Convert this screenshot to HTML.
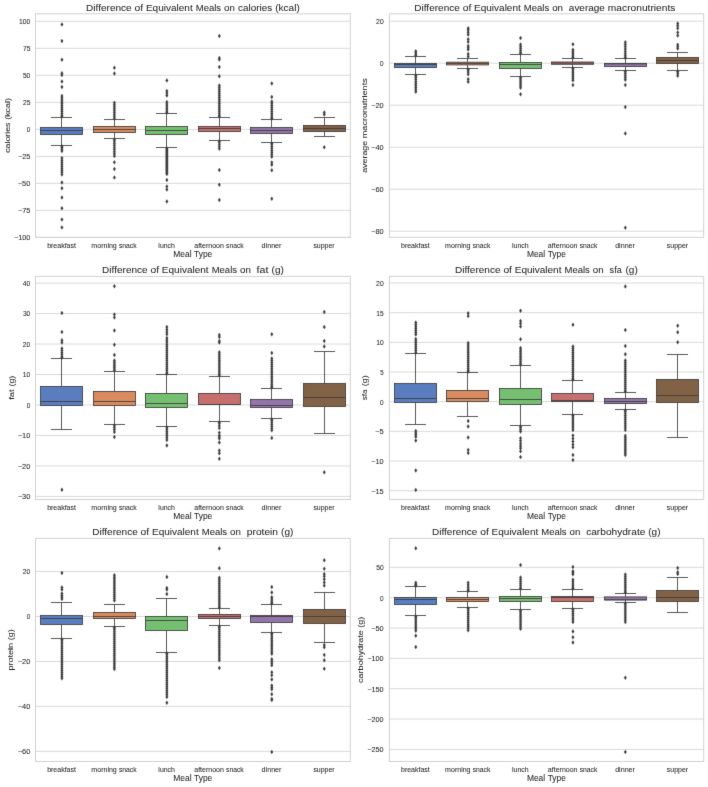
<!DOCTYPE html>
<html><head><meta charset="utf-8"><style>html,body{margin:0;padding:0;background:#fff;}svg{display:block;will-change:transform;}</style></head>
<body><svg width="708" height="787" viewBox="0 0 708 787">
<defs><filter id="sf" x="0" y="0" width="708" height="787" filterUnits="userSpaceOnUse" color-interpolation-filters="sRGB"><feConvolveMatrix order="3" kernelMatrix="1 10 1 10 100 10 1 10 1" edgeMode="duplicate"/></filter></defs><g filter="url(#sf)">
<rect width="708" height="787" fill="#fff"/>
<g stroke="#dadada" stroke-width="1.0">
<line x1="35.5" x2="350.3" y1="21.3" y2="21.3"/>
<line x1="35.5" x2="350.3" y1="48.32" y2="48.32"/>
<line x1="35.5" x2="350.3" y1="75.33" y2="75.33"/>
<line x1="35.5" x2="350.3" y1="102.35" y2="102.35"/>
<line x1="35.5" x2="350.3" y1="129.36" y2="129.36"/>
<line x1="35.5" x2="350.3" y1="156.38" y2="156.38"/>
<line x1="35.5" x2="350.3" y1="183.39" y2="183.39"/>
<line x1="35.5" x2="350.3" y1="210.41" y2="210.41"/>
<line x1="35.5" x2="350.3" y1="237.42" y2="237.42"/>
</g>
<rect x="35.5" y="13.8" width="314.8" height="223.5" fill="none" stroke="#cfcfcf" stroke-width="0.95"/>
<g stroke="#3c3c3c" stroke-width="0.85" fill="none">
<line x1="61.5" x2="61.5" y1="117.5" y2="127.5"/><line x1="61.5" x2="61.5" y1="134.5" y2="145.5"/>
<line x1="51.01" x2="71.99" y1="117.5" y2="117.5"/><line x1="51.01" x2="71.99" y1="145.5" y2="145.5"/>
<rect x="40.51" y="127.5" width="41.97" height="7" fill="#597dbf"/>
<line x1="40.51" x2="82.49" y1="130.5" y2="130.5"/>
</g>
<path d="M61.93 22.4l1.3 2l-1.3 2l-1.3 -2z M61.93 39l1.3 2l-1.3 2l-1.3 -2z M61.93 57.7l1.3 2l-1.3 2l-1.3 -2z M61.93 71.3l1.3 2l-1.3 2l-1.3 -2z M61.93 73l1.3 2l-1.3 2l-1.3 -2z M61.93 79.5l1.3 2l-1.3 2l-1.3 -2z M61.93 85.1l1.3 2l-1.3 2l-1.3 -2z M61.93 94.1l1.3 2l-1.3 2l-1.3 -2z M61.93 96.03l1.3 2l-1.3 2l-1.3 -2z M61.93 97.96l1.3 2l-1.3 2l-1.3 -2z M61.93 99.89l1.3 2l-1.3 2l-1.3 -2z M61.93 101.82l1.3 2l-1.3 2l-1.3 -2z M61.93 103.75l1.3 2l-1.3 2l-1.3 -2z M61.93 105.68l1.3 2l-1.3 2l-1.3 -2z M61.93 107.61l1.3 2l-1.3 2l-1.3 -2z M61.93 109.54l1.3 2l-1.3 2l-1.3 -2z M61.93 111.47l1.3 2l-1.3 2l-1.3 -2z M61.93 113.4l1.3 2l-1.3 2l-1.3 -2z M61.93 145.4l1.3 2l-1.3 2l-1.3 -2z M61.93 147.15l1.3 2l-1.3 2l-1.3 -2z M61.93 148.9l1.3 2l-1.3 2l-1.3 -2z M61.93 156.1l1.3 2l-1.3 2l-1.3 -2z M61.93 158.14l1.3 2l-1.3 2l-1.3 -2z M61.93 160.18l1.3 2l-1.3 2l-1.3 -2z M61.93 162.21l1.3 2l-1.3 2l-1.3 -2z M61.93 164.25l1.3 2l-1.3 2l-1.3 -2z M61.93 166.29l1.3 2l-1.3 2l-1.3 -2z M61.93 168.32l1.3 2l-1.3 2l-1.3 -2z M61.93 170.36l1.3 2l-1.3 2l-1.3 -2z M61.93 172.4l1.3 2l-1.3 2l-1.3 -2z M61.93 180.6l1.3 2l-1.3 2l-1.3 -2z M61.93 186.3l1.3 2l-1.3 2l-1.3 -2z M61.93 195.5l1.3 2l-1.3 2l-1.3 -2z M61.93 206.2l1.3 2l-1.3 2l-1.3 -2z M61.93 217.6l1.3 2l-1.3 2l-1.3 -2z M61.93 225.4l1.3 2l-1.3 2l-1.3 -2z M61.93 114.6l1.3 2l-1.3 2l-1.3 -2z M61.93 144.4l1.3 2l-1.3 2l-1.3 -2z" fill="#3c3c3c" stroke="#3c3c3c" stroke-width="0.25" stroke-linejoin="miter"/>
<g stroke="#3c3c3c" stroke-width="0.85" fill="none">
<line x1="114.5" x2="114.5" y1="119.5" y2="126.5"/><line x1="114.5" x2="114.5" y1="132.5" y2="138.5"/>
<line x1="104.01" x2="124.99" y1="119.5" y2="119.5"/><line x1="104.01" x2="124.99" y1="138.5" y2="138.5"/>
<rect x="93.51" y="126.5" width="41.97" height="6" fill="#d98b5f"/>
<line x1="93.51" x2="135.49" y1="129.5" y2="129.5"/>
</g>
<path d="M114.4 65.7l1.3 2l-1.3 2l-1.3 -2z M114.4 71.6l1.3 2l-1.3 2l-1.3 -2z M114.4 100.7l1.3 2l-1.3 2l-1.3 -2z M114.4 102.71l1.3 2l-1.3 2l-1.3 -2z M114.4 104.73l1.3 2l-1.3 2l-1.3 -2z M114.4 106.74l1.3 2l-1.3 2l-1.3 -2z M114.4 108.76l1.3 2l-1.3 2l-1.3 -2z M114.4 110.77l1.3 2l-1.3 2l-1.3 -2z M114.4 112.79l1.3 2l-1.3 2l-1.3 -2z M114.4 114.8l1.3 2l-1.3 2l-1.3 -2z M114.4 139.1l1.3 2l-1.3 2l-1.3 -2z M114.4 141.21l1.3 2l-1.3 2l-1.3 -2z M114.4 143.33l1.3 2l-1.3 2l-1.3 -2z M114.4 145.44l1.3 2l-1.3 2l-1.3 -2z M114.4 147.56l1.3 2l-1.3 2l-1.3 -2z M114.4 149.67l1.3 2l-1.3 2l-1.3 -2z M114.4 151.79l1.3 2l-1.3 2l-1.3 -2z M114.4 153.9l1.3 2l-1.3 2l-1.3 -2z M114.4 160.3l1.3 2l-1.3 2l-1.3 -2z M114.4 167.1l1.3 2l-1.3 2l-1.3 -2z M114.4 175.6l1.3 2l-1.3 2l-1.3 -2z M114.4 116.6l1.3 2l-1.3 2l-1.3 -2z M114.4 137.4l1.3 2l-1.3 2l-1.3 -2z" fill="#3c3c3c" stroke="#3c3c3c" stroke-width="0.25" stroke-linejoin="miter"/>
<g stroke="#3c3c3c" stroke-width="0.85" fill="none">
<line x1="166.5" x2="166.5" y1="113.5" y2="126.5"/><line x1="166.5" x2="166.5" y1="134.5" y2="147.5"/>
<line x1="156.01" x2="176.99" y1="113.5" y2="113.5"/><line x1="156.01" x2="176.99" y1="147.5" y2="147.5"/>
<rect x="145.51" y="126.5" width="41.97" height="8" fill="#75bf71"/>
<line x1="145.51" x2="187.49" y1="130.5" y2="130.5"/>
</g>
<path d="M166.87 78.4l1.3 2l-1.3 2l-1.3 -2z M166.87 89l1.3 2l-1.3 2l-1.3 -2z M166.87 91.2l1.3 2l-1.3 2l-1.3 -2z M166.87 93.6l1.3 2l-1.3 2l-1.3 -2z M166.87 100l1.3 2l-1.3 2l-1.3 -2z M166.87 101.96l1.3 2l-1.3 2l-1.3 -2z M166.87 103.92l1.3 2l-1.3 2l-1.3 -2z M166.87 105.88l1.3 2l-1.3 2l-1.3 -2z M166.87 107.84l1.3 2l-1.3 2l-1.3 -2z M166.87 109.8l1.3 2l-1.3 2l-1.3 -2z M166.87 147.4l1.3 2l-1.3 2l-1.3 -2z M166.87 148.38l1.3 2l-1.3 2l-1.3 -2z M166.87 149.37l1.3 2l-1.3 2l-1.3 -2z M166.87 150.35l1.3 2l-1.3 2l-1.3 -2z M166.87 151.34l1.3 2l-1.3 2l-1.3 -2z M166.87 152.32l1.3 2l-1.3 2l-1.3 -2z M166.87 153.3l1.3 2l-1.3 2l-1.3 -2z M166.87 154.29l1.3 2l-1.3 2l-1.3 -2z M166.87 155.27l1.3 2l-1.3 2l-1.3 -2z M166.87 156.26l1.3 2l-1.3 2l-1.3 -2z M166.87 157.24l1.3 2l-1.3 2l-1.3 -2z M166.87 158.22l1.3 2l-1.3 2l-1.3 -2z M166.87 159.21l1.3 2l-1.3 2l-1.3 -2z M166.87 160.19l1.3 2l-1.3 2l-1.3 -2z M166.87 161.18l1.3 2l-1.3 2l-1.3 -2z M166.87 162.16l1.3 2l-1.3 2l-1.3 -2z M166.87 163.14l1.3 2l-1.3 2l-1.3 -2z M166.87 164.13l1.3 2l-1.3 2l-1.3 -2z M166.87 165.11l1.3 2l-1.3 2l-1.3 -2z M166.87 166.1l1.3 2l-1.3 2l-1.3 -2z M166.87 167.08l1.3 2l-1.3 2l-1.3 -2z M166.87 168.06l1.3 2l-1.3 2l-1.3 -2z M166.87 169.05l1.3 2l-1.3 2l-1.3 -2z M166.87 170.03l1.3 2l-1.3 2l-1.3 -2z M166.87 171.02l1.3 2l-1.3 2l-1.3 -2z M166.87 172l1.3 2l-1.3 2l-1.3 -2z M166.87 178l1.3 2l-1.3 2l-1.3 -2z M166.87 184.6l1.3 2l-1.3 2l-1.3 -2z M166.87 187.6l1.3 2l-1.3 2l-1.3 -2z M166.87 199.5l1.3 2l-1.3 2l-1.3 -2z M166.87 110.6l1.3 2l-1.3 2l-1.3 -2z M166.87 146.4l1.3 2l-1.3 2l-1.3 -2z" fill="#3c3c3c" stroke="#3c3c3c" stroke-width="0.25" stroke-linejoin="miter"/>
<g stroke="#3c3c3c" stroke-width="0.85" fill="none">
<line x1="219.5" x2="219.5" y1="117.5" y2="126.5"/><line x1="219.5" x2="219.5" y1="131.5" y2="140.5"/>
<line x1="209.01" x2="229.99" y1="117.5" y2="117.5"/><line x1="209.01" x2="229.99" y1="140.5" y2="140.5"/>
<rect x="198.51" y="126.5" width="41.97" height="5" fill="#c76e6e"/>
<line x1="198.51" x2="240.49" y1="128.5" y2="128.5"/>
</g>
<path d="M219.33 34l1.3 2l-1.3 2l-1.3 -2z M219.33 56l1.3 2l-1.3 2l-1.3 -2z M219.33 57.6l1.3 2l-1.3 2l-1.3 -2z M219.33 65.1l1.3 2l-1.3 2l-1.3 -2z M219.33 74.3l1.3 2l-1.3 2l-1.3 -2z M219.33 83.6l1.3 2l-1.3 2l-1.3 -2z M219.33 85.58l1.3 2l-1.3 2l-1.3 -2z M219.33 87.56l1.3 2l-1.3 2l-1.3 -2z M219.33 89.54l1.3 2l-1.3 2l-1.3 -2z M219.33 91.52l1.3 2l-1.3 2l-1.3 -2z M219.33 93.5l1.3 2l-1.3 2l-1.3 -2z M219.33 95.48l1.3 2l-1.3 2l-1.3 -2z M219.33 97.46l1.3 2l-1.3 2l-1.3 -2z M219.33 99.44l1.3 2l-1.3 2l-1.3 -2z M219.33 101.42l1.3 2l-1.3 2l-1.3 -2z M219.33 103.4l1.3 2l-1.3 2l-1.3 -2z M219.33 105.38l1.3 2l-1.3 2l-1.3 -2z M219.33 107.36l1.3 2l-1.3 2l-1.3 -2z M219.33 109.34l1.3 2l-1.3 2l-1.3 -2z M219.33 111.32l1.3 2l-1.3 2l-1.3 -2z M219.33 113.3l1.3 2l-1.3 2l-1.3 -2z M219.33 140.1l1.3 2l-1.3 2l-1.3 -2z M219.33 142.3l1.3 2l-1.3 2l-1.3 -2z M219.33 144.5l1.3 2l-1.3 2l-1.3 -2z M219.33 146.7l1.3 2l-1.3 2l-1.3 -2z M219.33 168.1l1.3 2l-1.3 2l-1.3 -2z M219.33 182.7l1.3 2l-1.3 2l-1.3 -2z M219.33 197.9l1.3 2l-1.3 2l-1.3 -2z M219.33 114.6l1.3 2l-1.3 2l-1.3 -2z M219.33 139.4l1.3 2l-1.3 2l-1.3 -2z" fill="#3c3c3c" stroke="#3c3c3c" stroke-width="0.25" stroke-linejoin="miter"/>
<g stroke="#3c3c3c" stroke-width="0.85" fill="none">
<line x1="271.5" x2="271.5" y1="119.5" y2="127.5"/><line x1="271.5" x2="271.5" y1="133.5" y2="142.5"/>
<line x1="261.01" x2="281.99" y1="119.5" y2="119.5"/><line x1="261.01" x2="281.99" y1="142.5" y2="142.5"/>
<rect x="250.51" y="127.5" width="41.97" height="6" fill="#9475ab"/>
<line x1="250.51" x2="292.49" y1="130.5" y2="130.5"/>
</g>
<path d="M271.8 81.4l1.3 2l-1.3 2l-1.3 -2z M271.8 94.9l1.3 2l-1.3 2l-1.3 -2z M271.8 99.6l1.3 2l-1.3 2l-1.3 -2z M271.8 101.57l1.3 2l-1.3 2l-1.3 -2z M271.8 103.55l1.3 2l-1.3 2l-1.3 -2z M271.8 105.53l1.3 2l-1.3 2l-1.3 -2z M271.8 107.5l1.3 2l-1.3 2l-1.3 -2z M271.8 109.47l1.3 2l-1.3 2l-1.3 -2z M271.8 111.45l1.3 2l-1.3 2l-1.3 -2z M271.8 113.43l1.3 2l-1.3 2l-1.3 -2z M271.8 115.4l1.3 2l-1.3 2l-1.3 -2z M271.8 142.1l1.3 2l-1.3 2l-1.3 -2z M271.8 144.2l1.3 2l-1.3 2l-1.3 -2z M271.8 146.3l1.3 2l-1.3 2l-1.3 -2z M271.8 148.4l1.3 2l-1.3 2l-1.3 -2z M271.8 150.5l1.3 2l-1.3 2l-1.3 -2z M271.8 152.6l1.3 2l-1.3 2l-1.3 -2z M271.8 154.7l1.3 2l-1.3 2l-1.3 -2z M271.8 160.4l1.3 2l-1.3 2l-1.3 -2z M271.8 162.7l1.3 2l-1.3 2l-1.3 -2z M271.8 168.3l1.3 2l-1.3 2l-1.3 -2z M271.8 196.7l1.3 2l-1.3 2l-1.3 -2z M271.8 116.6l1.3 2l-1.3 2l-1.3 -2z M271.8 141.4l1.3 2l-1.3 2l-1.3 -2z" fill="#3c3c3c" stroke="#3c3c3c" stroke-width="0.25" stroke-linejoin="miter"/>
<g stroke="#3c3c3c" stroke-width="0.85" fill="none">
<line x1="324.5" x2="324.5" y1="117.5" y2="125.5"/><line x1="324.5" x2="324.5" y1="131.5" y2="136.5"/>
<line x1="314.01" x2="334.99" y1="117.5" y2="117.5"/><line x1="314.01" x2="334.99" y1="136.5" y2="136.5"/>
<rect x="303.51" y="125.5" width="41.97" height="6" fill="#826246"/>
<line x1="303.51" x2="345.49" y1="128.5" y2="128.5"/>
</g>
<path d="M324.27 110.4l1.3 2l-1.3 2l-1.3 -2z M324.27 112.4l1.3 2l-1.3 2l-1.3 -2z M324.27 145.2l1.3 2l-1.3 2l-1.3 -2z" fill="#3c3c3c" stroke="#3c3c3c" stroke-width="0.25" stroke-linejoin="miter"/>
<g fill="#262626" stroke="#262626" stroke-width="0.05" font-family="Liberation Sans, sans-serif">
<text x="86.1" y="10.5" font-size="9.3" textLength="45.59" lengthAdjust="spacingAndGlyphs">Difference</text><text x="134.57" y="10.5" font-size="9.3" textLength="8.6" lengthAdjust="spacingAndGlyphs">of</text><text x="145.94" y="10.5" font-size="9.3" textLength="46.79" lengthAdjust="spacingAndGlyphs">Equivalent</text><text x="195.76" y="10.5" font-size="9.3" textLength="25.39" lengthAdjust="spacingAndGlyphs">Meals</text><text x="224.14" y="10.5" font-size="9.3" textLength="10.83" lengthAdjust="spacingAndGlyphs">on</text><text x="237.99" y="10.5" font-size="9.3" textLength="34.19" lengthAdjust="spacingAndGlyphs">calories</text><text x="275.21" y="10.5" font-size="9.3" textLength="24.55" lengthAdjust="spacingAndGlyphs">(kcal)</text>
<text x="18.92" y="24.2" font-size="6.9" textLength="11.45" lengthAdjust="spacingAndGlyphs">100</text>
<text x="22.97" y="51.22" font-size="6.9" textLength="7.41" lengthAdjust="spacingAndGlyphs">75</text>
<text x="22.88" y="78.23" font-size="6.9" textLength="7.47" lengthAdjust="spacingAndGlyphs">50</text>
<text x="22.94" y="105.25" font-size="6.9" textLength="7.44" lengthAdjust="spacingAndGlyphs">25</text>
<text x="26.74" y="132.26" font-size="6.9" textLength="3.6" lengthAdjust="spacingAndGlyphs">0</text>
<text x="17.92" y="159.28" font-size="6.9" textLength="12.48" lengthAdjust="spacingAndGlyphs">−25</text>
<text x="17.8" y="186.29" font-size="6.9" textLength="12.57" lengthAdjust="spacingAndGlyphs">−50</text>
<text x="17.92" y="213.31" font-size="6.9" textLength="12.48" lengthAdjust="spacingAndGlyphs">−75</text>
<text x="13.9" y="240.32" font-size="6.9" textLength="16.48" lengthAdjust="spacingAndGlyphs">−100</text>
<text x="47.15" y="247.8" font-size="6.9" textLength="28.77" lengthAdjust="spacingAndGlyphs">breakfast</text>
<text x="91.36" y="247.8" font-size="6.9" textLength="25.41" lengthAdjust="spacingAndGlyphs">morning</text><text x="118.93" y="247.8" font-size="6.9" textLength="17.68" lengthAdjust="spacingAndGlyphs">snack</text>
<text x="158.37" y="247.8" font-size="6.9" textLength="16.59" lengthAdjust="spacingAndGlyphs">lunch</text>
<text x="194.28" y="247.8" font-size="6.9" textLength="29.62" lengthAdjust="spacingAndGlyphs">afternoon</text><text x="226.05" y="247.8" font-size="6.9" textLength="17.68" lengthAdjust="spacingAndGlyphs">snack</text>
<text x="261.63" y="247.8" font-size="6.9" textLength="19.8" lengthAdjust="spacingAndGlyphs">dinner</text>
<text x="313.42" y="247.8" font-size="6.9" textLength="21.21" lengthAdjust="spacingAndGlyphs">supper</text>
<text x="173.25" y="257" font-size="8.5" textLength="18.32" lengthAdjust="spacingAndGlyphs">Meal</text><text x="194.02" y="257" font-size="8.5" textLength="18.23" lengthAdjust="spacingAndGlyphs">Type</text>
<g transform="rotate(-90)"><text x="-152.81" y="10.1" font-size="8.1" textLength="30.3" lengthAdjust="spacingAndGlyphs">calories</text><text x="-119.82" y="10.1" font-size="8.1" textLength="21.75" lengthAdjust="spacingAndGlyphs">(kcal)</text></g>
</g>
<g stroke="#dadada" stroke-width="1.0">
<line x1="389.4" x2="703.7" y1="21.2" y2="21.2"/>
<line x1="389.4" x2="703.7" y1="63.2" y2="63.2"/>
<line x1="389.4" x2="703.7" y1="105.2" y2="105.2"/>
<line x1="389.4" x2="703.7" y1="147.2" y2="147.2"/>
<line x1="389.4" x2="703.7" y1="189.2" y2="189.2"/>
<line x1="389.4" x2="703.7" y1="231.2" y2="231.2"/>
</g>
<rect x="389.4" y="13.8" width="314.3" height="223.5" fill="none" stroke="#cfcfcf" stroke-width="0.95"/>
<g stroke="#3c3c3c" stroke-width="0.85" fill="none">
<line x1="415.5" x2="415.5" y1="56.5" y2="63.5"/><line x1="415.5" x2="415.5" y1="67.5" y2="74.5"/>
<line x1="405.02" x2="425.98" y1="56.5" y2="56.5"/><line x1="405.02" x2="425.98" y1="74.5" y2="74.5"/>
<rect x="394.55" y="63.5" width="41.91" height="4" fill="#597dbf"/>
<line x1="394.55" x2="436.45" y1="64.5" y2="64.5"/>
</g>
<path d="M415.79 49.3l1.3 2l-1.3 2l-1.3 -2z M415.79 51.1l1.3 2l-1.3 2l-1.3 -2z M415.79 52.9l1.3 2l-1.3 2l-1.3 -2z M415.79 73.6l1.3 2l-1.3 2l-1.3 -2z M415.79 75.61l1.3 2l-1.3 2l-1.3 -2z M415.79 77.62l1.3 2l-1.3 2l-1.3 -2z M415.79 79.64l1.3 2l-1.3 2l-1.3 -2z M415.79 81.65l1.3 2l-1.3 2l-1.3 -2z M415.79 83.66l1.3 2l-1.3 2l-1.3 -2z M415.79 85.67l1.3 2l-1.3 2l-1.3 -2z M415.79 87.69l1.3 2l-1.3 2l-1.3 -2z M415.79 89.7l1.3 2l-1.3 2l-1.3 -2z M415.79 53.6l1.3 2l-1.3 2l-1.3 -2z M415.79 73.4l1.3 2l-1.3 2l-1.3 -2z" fill="#3c3c3c" stroke="#3c3c3c" stroke-width="0.25" stroke-linejoin="miter"/>
<g stroke="#3c3c3c" stroke-width="0.85" fill="none">
<line x1="467.5" x2="467.5" y1="58.5" y2="62.2"/><line x1="467.5" x2="467.5" y1="64.9" y2="68.5"/>
<line x1="457.02" x2="477.98" y1="58.5" y2="58.5"/><line x1="457.02" x2="477.98" y1="68.5" y2="68.5"/>
<rect x="446.55" y="62.2" width="41.91" height="2.7" fill="#d98b5f"/>
<line x1="446.55" x2="488.45" y1="63.5" y2="63.5"/>
</g>
<path d="M468.18 26.3l1.3 2l-1.3 2l-1.3 -2z M468.18 28l1.3 2l-1.3 2l-1.3 -2z M468.18 30.3l1.3 2l-1.3 2l-1.3 -2z M468.18 32.6l1.3 2l-1.3 2l-1.3 -2z M468.18 37.2l1.3 2l-1.3 2l-1.3 -2z M468.18 39.8l1.3 2l-1.3 2l-1.3 -2z M468.18 43.9l1.3 2l-1.3 2l-1.3 -2z M468.18 45.65l1.3 2l-1.3 2l-1.3 -2z M468.18 47.4l1.3 2l-1.3 2l-1.3 -2z M468.18 52l1.3 2l-1.3 2l-1.3 -2z M468.18 54.4l1.3 2l-1.3 2l-1.3 -2z M468.18 67.9l1.3 2l-1.3 2l-1.3 -2z M468.18 70.05l1.3 2l-1.3 2l-1.3 -2z M468.18 72.2l1.3 2l-1.3 2l-1.3 -2z M468.18 77.2l1.3 2l-1.3 2l-1.3 -2z M468.18 79.8l1.3 2l-1.3 2l-1.3 -2z M468.18 67.4l1.3 2l-1.3 2l-1.3 -2z" fill="#3c3c3c" stroke="#3c3c3c" stroke-width="0.25" stroke-linejoin="miter"/>
<g stroke="#3c3c3c" stroke-width="0.85" fill="none">
<line x1="520.5" x2="520.5" y1="54.5" y2="62.5"/><line x1="520.5" x2="520.5" y1="68.5" y2="76.5"/>
<line x1="510.02" x2="530.98" y1="54.5" y2="54.5"/><line x1="510.02" x2="530.98" y1="76.5" y2="76.5"/>
<rect x="499.55" y="62.5" width="41.91" height="6" fill="#75bf71"/>
<line x1="499.55" x2="541.45" y1="64.5" y2="64.5"/>
</g>
<path d="M520.56 36.1l1.3 2l-1.3 2l-1.3 -2z M520.56 42.6l1.3 2l-1.3 2l-1.3 -2z M520.56 44.55l1.3 2l-1.3 2l-1.3 -2z M520.56 46.5l1.3 2l-1.3 2l-1.3 -2z M520.56 48.45l1.3 2l-1.3 2l-1.3 -2z M520.56 50.4l1.3 2l-1.3 2l-1.3 -2z M520.56 76.1l1.3 2l-1.3 2l-1.3 -2z M520.56 78.02l1.3 2l-1.3 2l-1.3 -2z M520.56 79.94l1.3 2l-1.3 2l-1.3 -2z M520.56 81.86l1.3 2l-1.3 2l-1.3 -2z M520.56 83.78l1.3 2l-1.3 2l-1.3 -2z M520.56 85.7l1.3 2l-1.3 2l-1.3 -2z M520.56 92.3l1.3 2l-1.3 2l-1.3 -2z M520.56 51.6l1.3 2l-1.3 2l-1.3 -2z M520.56 75.4l1.3 2l-1.3 2l-1.3 -2z" fill="#3c3c3c" stroke="#3c3c3c" stroke-width="0.25" stroke-linejoin="miter"/>
<g stroke="#3c3c3c" stroke-width="0.85" fill="none">
<line x1="572.5" x2="572.5" y1="58.5" y2="62"/><line x1="572.5" x2="572.5" y1="64.3" y2="67.5"/>
<line x1="562.02" x2="582.98" y1="58.5" y2="58.5"/><line x1="562.02" x2="582.98" y1="67.5" y2="67.5"/>
<rect x="551.55" y="62" width="41.91" height="2.3" fill="#c76e6e"/>
<line x1="551.55" x2="593.45" y1="63.1" y2="63.1"/>
</g>
<path d="M572.94 42.3l1.3 2l-1.3 2l-1.3 -2z M572.94 47.8l1.3 2l-1.3 2l-1.3 -2z M572.94 49.58l1.3 2l-1.3 2l-1.3 -2z M572.94 51.35l1.3 2l-1.3 2l-1.3 -2z M572.94 53.12l1.3 2l-1.3 2l-1.3 -2z M572.94 54.9l1.3 2l-1.3 2l-1.3 -2z M572.94 67.1l1.3 2l-1.3 2l-1.3 -2z M572.94 68.97l1.3 2l-1.3 2l-1.3 -2z M572.94 70.83l1.3 2l-1.3 2l-1.3 -2z M572.94 72.7l1.3 2l-1.3 2l-1.3 -2z M572.94 74.57l1.3 2l-1.3 2l-1.3 -2z M572.94 76.43l1.3 2l-1.3 2l-1.3 -2z M572.94 78.3l1.3 2l-1.3 2l-1.3 -2z M572.94 83.1l1.3 2l-1.3 2l-1.3 -2z M572.94 55.6l1.3 2l-1.3 2l-1.3 -2z M572.94 66.4l1.3 2l-1.3 2l-1.3 -2z" fill="#3c3c3c" stroke="#3c3c3c" stroke-width="0.25" stroke-linejoin="miter"/>
<g stroke="#3c3c3c" stroke-width="0.85" fill="none">
<line x1="625.5" x2="625.5" y1="58.5" y2="63.4"/><line x1="625.5" x2="625.5" y1="66.5" y2="70.5"/>
<line x1="615.02" x2="635.98" y1="58.5" y2="58.5"/><line x1="615.02" x2="635.98" y1="70.5" y2="70.5"/>
<rect x="604.55" y="63.4" width="41.91" height="3.1" fill="#9475ab"/>
<line x1="604.55" x2="646.45" y1="63.8" y2="63.8"/>
</g>
<path d="M625.33 40.3l1.3 2l-1.3 2l-1.3 -2z M625.33 42.5l1.3 2l-1.3 2l-1.3 -2z M625.33 44.7l1.3 2l-1.3 2l-1.3 -2z M625.33 47l1.3 2l-1.3 2l-1.3 -2z M625.33 49.2l1.3 2l-1.3 2l-1.3 -2z M625.33 51.4l1.3 2l-1.3 2l-1.3 -2z M625.33 53.6l1.3 2l-1.3 2l-1.3 -2z M625.33 55.8l1.3 2l-1.3 2l-1.3 -2z M625.33 69.6l1.3 2l-1.3 2l-1.3 -2z M625.33 71.62l1.3 2l-1.3 2l-1.3 -2z M625.33 73.65l1.3 2l-1.3 2l-1.3 -2z M625.33 75.67l1.3 2l-1.3 2l-1.3 -2z M625.33 77.7l1.3 2l-1.3 2l-1.3 -2z M625.33 83l1.3 2l-1.3 2l-1.3 -2z M625.33 105.1l1.3 2l-1.3 2l-1.3 -2z M625.33 131.4l1.3 2l-1.3 2l-1.3 -2z M625.33 225.7l1.3 2l-1.3 2l-1.3 -2z M625.33 55.6l1.3 2l-1.3 2l-1.3 -2z M625.33 69.4l1.3 2l-1.3 2l-1.3 -2z" fill="#3c3c3c" stroke="#3c3c3c" stroke-width="0.25" stroke-linejoin="miter"/>
<g stroke="#3c3c3c" stroke-width="0.85" fill="none">
<line x1="677.5" x2="677.5" y1="52.5" y2="57.5"/><line x1="677.5" x2="677.5" y1="63.5" y2="70.5"/>
<line x1="667.02" x2="687.98" y1="52.5" y2="52.5"/><line x1="667.02" x2="687.98" y1="70.5" y2="70.5"/>
<rect x="656.55" y="57.5" width="41.91" height="6" fill="#826246"/>
<line x1="656.55" x2="698.45" y1="60.5" y2="60.5"/>
</g>
<path d="M677.71 21.5l1.3 2l-1.3 2l-1.3 -2z M677.71 23.8l1.3 2l-1.3 2l-1.3 -2z M677.71 26.2l1.3 2l-1.3 2l-1.3 -2z M677.71 30.5l1.3 2l-1.3 2l-1.3 -2z M677.71 33.5l1.3 2l-1.3 2l-1.3 -2z M677.71 42.8l1.3 2l-1.3 2l-1.3 -2z M677.71 44.7l1.3 2l-1.3 2l-1.3 -2z M677.71 46.6l1.3 2l-1.3 2l-1.3 -2z M677.71 69.6l1.3 2l-1.3 2l-1.3 -2z M677.71 71.5l1.3 2l-1.3 2l-1.3 -2z M677.71 73.8l1.3 2l-1.3 2l-1.3 -2z M677.71 69.4l1.3 2l-1.3 2l-1.3 -2z" fill="#3c3c3c" stroke="#3c3c3c" stroke-width="0.25" stroke-linejoin="miter"/>
<g fill="#262626" stroke="#262626" stroke-width="0.05" font-family="Liberation Sans, sans-serif">
<text x="414.3" y="10.5" font-size="9.3" textLength="45.53" lengthAdjust="spacingAndGlyphs">Difference</text><text x="462.71" y="10.5" font-size="9.3" textLength="8.58" lengthAdjust="spacingAndGlyphs">of</text><text x="474.06" y="10.5" font-size="9.3" textLength="46.72" lengthAdjust="spacingAndGlyphs">Equivalent</text><text x="523.81" y="10.5" font-size="9.3" textLength="25.35" lengthAdjust="spacingAndGlyphs">Meals</text><text x="552.16" y="10.5" font-size="9.3" textLength="10.82" lengthAdjust="spacingAndGlyphs">on</text><text x="568.83" y="10.5" font-size="9.3" textLength="36.09" lengthAdjust="spacingAndGlyphs">average</text><text x="607.86" y="10.5" font-size="9.3" textLength="67.49" lengthAdjust="spacingAndGlyphs">macronutrients</text>
<text x="376.11" y="24.1" font-size="6.9" textLength="7.54" lengthAdjust="spacingAndGlyphs">20</text>
<text x="380.04" y="66.1" font-size="6.9" textLength="3.6" lengthAdjust="spacingAndGlyphs">0</text>
<text x="371.1" y="108.1" font-size="6.9" textLength="12.57" lengthAdjust="spacingAndGlyphs">−20</text>
<text x="371.1" y="150.1" font-size="6.9" textLength="12.57" lengthAdjust="spacingAndGlyphs">−40</text>
<text x="371.1" y="192.1" font-size="6.9" textLength="12.57" lengthAdjust="spacingAndGlyphs">−60</text>
<text x="371.1" y="234.1" font-size="6.9" textLength="12.57" lengthAdjust="spacingAndGlyphs">−80</text>
<text x="401.01" y="247.8" font-size="6.9" textLength="28.77" lengthAdjust="spacingAndGlyphs">breakfast</text>
<text x="445.13" y="247.8" font-size="6.9" textLength="25.41" lengthAdjust="spacingAndGlyphs">morning</text><text x="472.71" y="247.8" font-size="6.9" textLength="17.68" lengthAdjust="spacingAndGlyphs">snack</text>
<text x="512.07" y="247.8" font-size="6.9" textLength="16.59" lengthAdjust="spacingAndGlyphs">lunch</text>
<text x="547.89" y="247.8" font-size="6.9" textLength="29.62" lengthAdjust="spacingAndGlyphs">afternoon</text><text x="579.66" y="247.8" font-size="6.9" textLength="17.68" lengthAdjust="spacingAndGlyphs">snack</text>
<text x="615.15" y="247.8" font-size="6.9" textLength="19.8" lengthAdjust="spacingAndGlyphs">dinner</text>
<text x="666.86" y="247.8" font-size="6.9" textLength="21.21" lengthAdjust="spacingAndGlyphs">supper</text>
<text x="526.9" y="257" font-size="8.5" textLength="18.32" lengthAdjust="spacingAndGlyphs">Meal</text><text x="547.67" y="257" font-size="8.5" textLength="18.23" lengthAdjust="spacingAndGlyphs">Type</text>
<g transform="rotate(-90)"><text x="-172.83" y="367.3" font-size="8.1" textLength="32.03" lengthAdjust="spacingAndGlyphs">average</text><text x="-138.19" y="367.3" font-size="8.1" textLength="59.89" lengthAdjust="spacingAndGlyphs">macronutrients</text></g>
</g>
<g stroke="#dadada" stroke-width="1.0">
<line x1="35.5" x2="350.3" y1="283.12" y2="283.12"/>
<line x1="35.5" x2="350.3" y1="313.59" y2="313.59"/>
<line x1="35.5" x2="350.3" y1="344.06" y2="344.06"/>
<line x1="35.5" x2="350.3" y1="374.53" y2="374.53"/>
<line x1="35.5" x2="350.3" y1="405" y2="405"/>
<line x1="35.5" x2="350.3" y1="435.47" y2="435.47"/>
<line x1="35.5" x2="350.3" y1="465.94" y2="465.94"/>
<line x1="35.5" x2="350.3" y1="496.41" y2="496.41"/>
</g>
<rect x="35.5" y="276.4" width="314.8" height="223.1" fill="none" stroke="#cfcfcf" stroke-width="0.95"/>
<g stroke="#3c3c3c" stroke-width="0.85" fill="none">
<line x1="61.5" x2="61.5" y1="358.5" y2="386.5"/><line x1="61.5" x2="61.5" y1="405.5" y2="429.5"/>
<line x1="51.01" x2="71.99" y1="358.5" y2="358.5"/><line x1="51.01" x2="71.99" y1="429.5" y2="429.5"/>
<rect x="40.51" y="386.5" width="41.97" height="19" fill="#597dbf"/>
<line x1="40.51" x2="82.49" y1="401.5" y2="401.5"/>
</g>
<path d="M61.93 311l1.3 2l-1.3 2l-1.3 -2z M61.93 330l1.3 2l-1.3 2l-1.3 -2z M61.93 338.2l1.3 2l-1.3 2l-1.3 -2z M61.93 340.6l1.3 2l-1.3 2l-1.3 -2z M61.93 346.4l1.3 2l-1.3 2l-1.3 -2z M61.93 348.53l1.3 2l-1.3 2l-1.3 -2z M61.93 350.65l1.3 2l-1.3 2l-1.3 -2z M61.93 352.77l1.3 2l-1.3 2l-1.3 -2z M61.93 354.9l1.3 2l-1.3 2l-1.3 -2z M61.93 487.8l1.3 2l-1.3 2l-1.3 -2z M61.93 355.6l1.3 2l-1.3 2l-1.3 -2z" fill="#3c3c3c" stroke="#3c3c3c" stroke-width="0.25" stroke-linejoin="miter"/>
<g stroke="#3c3c3c" stroke-width="0.85" fill="none">
<line x1="114.5" x2="114.5" y1="371.5" y2="391.5"/><line x1="114.5" x2="114.5" y1="405.5" y2="424.5"/>
<line x1="104.01" x2="124.99" y1="371.5" y2="371.5"/><line x1="104.01" x2="124.99" y1="424.5" y2="424.5"/>
<rect x="93.51" y="391.5" width="41.97" height="14" fill="#d98b5f"/>
<line x1="93.51" x2="135.49" y1="401.5" y2="401.5"/>
</g>
<path d="M114.4 284.2l1.3 2l-1.3 2l-1.3 -2z M114.4 312.5l1.3 2l-1.3 2l-1.3 -2z M114.4 315.4l1.3 2l-1.3 2l-1.3 -2z M114.4 328.5l1.3 2l-1.3 2l-1.3 -2z M114.4 342.7l1.3 2l-1.3 2l-1.3 -2z M114.4 352.9l1.3 2l-1.3 2l-1.3 -2z M114.4 358.6l1.3 2l-1.3 2l-1.3 -2z M114.4 360.28l1.3 2l-1.3 2l-1.3 -2z M114.4 361.96l1.3 2l-1.3 2l-1.3 -2z M114.4 363.64l1.3 2l-1.3 2l-1.3 -2z M114.4 365.32l1.3 2l-1.3 2l-1.3 -2z M114.4 367l1.3 2l-1.3 2l-1.3 -2z M114.4 425.4l1.3 2l-1.3 2l-1.3 -2z M114.4 427.6l1.3 2l-1.3 2l-1.3 -2z M114.4 429.9l1.3 2l-1.3 2l-1.3 -2z M114.4 435.1l1.3 2l-1.3 2l-1.3 -2z M114.4 368.6l1.3 2l-1.3 2l-1.3 -2z M114.4 423.4l1.3 2l-1.3 2l-1.3 -2z" fill="#3c3c3c" stroke="#3c3c3c" stroke-width="0.25" stroke-linejoin="miter"/>
<g stroke="#3c3c3c" stroke-width="0.85" fill="none">
<line x1="166.5" x2="166.5" y1="374.5" y2="393.5"/><line x1="166.5" x2="166.5" y1="407.5" y2="426.5"/>
<line x1="156.01" x2="176.99" y1="374.5" y2="374.5"/><line x1="156.01" x2="176.99" y1="426.5" y2="426.5"/>
<rect x="145.51" y="393.5" width="41.97" height="14" fill="#75bf71"/>
<line x1="145.51" x2="187.49" y1="403.5" y2="403.5"/>
</g>
<path d="M166.87 325l1.3 2l-1.3 2l-1.3 -2z M166.87 327.5l1.3 2l-1.3 2l-1.3 -2z M166.87 330l1.3 2l-1.3 2l-1.3 -2z M166.87 332.2l1.3 2l-1.3 2l-1.3 -2z M166.87 336l1.3 2l-1.3 2l-1.3 -2z M166.87 338.05l1.3 2l-1.3 2l-1.3 -2z M166.87 340.11l1.3 2l-1.3 2l-1.3 -2z M166.87 342.16l1.3 2l-1.3 2l-1.3 -2z M166.87 344.21l1.3 2l-1.3 2l-1.3 -2z M166.87 346.26l1.3 2l-1.3 2l-1.3 -2z M166.87 348.32l1.3 2l-1.3 2l-1.3 -2z M166.87 350.37l1.3 2l-1.3 2l-1.3 -2z M166.87 352.42l1.3 2l-1.3 2l-1.3 -2z M166.87 354.48l1.3 2l-1.3 2l-1.3 -2z M166.87 356.53l1.3 2l-1.3 2l-1.3 -2z M166.87 358.58l1.3 2l-1.3 2l-1.3 -2z M166.87 360.64l1.3 2l-1.3 2l-1.3 -2z M166.87 362.69l1.3 2l-1.3 2l-1.3 -2z M166.87 364.74l1.3 2l-1.3 2l-1.3 -2z M166.87 366.79l1.3 2l-1.3 2l-1.3 -2z M166.87 368.85l1.3 2l-1.3 2l-1.3 -2z M166.87 370.9l1.3 2l-1.3 2l-1.3 -2z M166.87 427.6l1.3 2l-1.3 2l-1.3 -2z M166.87 429.66l1.3 2l-1.3 2l-1.3 -2z M166.87 431.72l1.3 2l-1.3 2l-1.3 -2z M166.87 433.78l1.3 2l-1.3 2l-1.3 -2z M166.87 435.84l1.3 2l-1.3 2l-1.3 -2z M166.87 437.9l1.3 2l-1.3 2l-1.3 -2z M166.87 443.4l1.3 2l-1.3 2l-1.3 -2z M166.87 371.6l1.3 2l-1.3 2l-1.3 -2z M166.87 425.4l1.3 2l-1.3 2l-1.3 -2z" fill="#3c3c3c" stroke="#3c3c3c" stroke-width="0.25" stroke-linejoin="miter"/>
<g stroke="#3c3c3c" stroke-width="0.85" fill="none">
<line x1="219.5" x2="219.5" y1="376.5" y2="393.5"/><line x1="219.5" x2="219.5" y1="404.5" y2="421.5"/>
<line x1="209.01" x2="229.99" y1="376.5" y2="376.5"/><line x1="209.01" x2="229.99" y1="421.5" y2="421.5"/>
<rect x="198.51" y="393.5" width="41.97" height="11" fill="#c76e6e"/>
<line x1="198.51" x2="240.49" y1="404.5" y2="404.5"/>
</g>
<path d="M219.33 332.9l1.3 2l-1.3 2l-1.3 -2z M219.33 335.1l1.3 2l-1.3 2l-1.3 -2z M219.33 338.9l1.3 2l-1.3 2l-1.3 -2z M219.33 340.4l1.3 2l-1.3 2l-1.3 -2z M219.33 350.2l1.3 2l-1.3 2l-1.3 -2z M219.33 352.18l1.3 2l-1.3 2l-1.3 -2z M219.33 354.16l1.3 2l-1.3 2l-1.3 -2z M219.33 356.15l1.3 2l-1.3 2l-1.3 -2z M219.33 358.13l1.3 2l-1.3 2l-1.3 -2z M219.33 360.11l1.3 2l-1.3 2l-1.3 -2z M219.33 362.09l1.3 2l-1.3 2l-1.3 -2z M219.33 364.07l1.3 2l-1.3 2l-1.3 -2z M219.33 366.05l1.3 2l-1.3 2l-1.3 -2z M219.33 368.04l1.3 2l-1.3 2l-1.3 -2z M219.33 370.02l1.3 2l-1.3 2l-1.3 -2z M219.33 372l1.3 2l-1.3 2l-1.3 -2z M219.33 421.2l1.3 2l-1.3 2l-1.3 -2z M219.33 423.65l1.3 2l-1.3 2l-1.3 -2z M219.33 426.1l1.3 2l-1.3 2l-1.3 -2z M219.33 430.7l1.3 2l-1.3 2l-1.3 -2z M219.33 433.5l1.3 2l-1.3 2l-1.3 -2z M219.33 435l1.3 2l-1.3 2l-1.3 -2z M219.33 436.4l1.3 2l-1.3 2l-1.3 -2z M219.33 440.5l1.3 2l-1.3 2l-1.3 -2z M219.33 448.4l1.3 2l-1.3 2l-1.3 -2z M219.33 451.2l1.3 2l-1.3 2l-1.3 -2z M219.33 456.8l1.3 2l-1.3 2l-1.3 -2z M219.33 373.6l1.3 2l-1.3 2l-1.3 -2z M219.33 420.4l1.3 2l-1.3 2l-1.3 -2z" fill="#3c3c3c" stroke="#3c3c3c" stroke-width="0.25" stroke-linejoin="miter"/>
<g stroke="#3c3c3c" stroke-width="0.85" fill="none">
<line x1="271.5" x2="271.5" y1="388.5" y2="399.5"/><line x1="271.5" x2="271.5" y1="407.5" y2="418.5"/>
<line x1="261.01" x2="281.99" y1="388.5" y2="388.5"/><line x1="261.01" x2="281.99" y1="418.5" y2="418.5"/>
<rect x="250.51" y="399.5" width="41.97" height="8" fill="#9475ab"/>
<line x1="250.51" x2="292.49" y1="405.5" y2="405.5"/>
</g>
<path d="M271.8 332.3l1.3 2l-1.3 2l-1.3 -2z M271.8 350.9l1.3 2l-1.3 2l-1.3 -2z M271.8 356.5l1.3 2l-1.3 2l-1.3 -2z M271.8 358.52l1.3 2l-1.3 2l-1.3 -2z M271.8 360.54l1.3 2l-1.3 2l-1.3 -2z M271.8 362.56l1.3 2l-1.3 2l-1.3 -2z M271.8 364.59l1.3 2l-1.3 2l-1.3 -2z M271.8 366.61l1.3 2l-1.3 2l-1.3 -2z M271.8 368.63l1.3 2l-1.3 2l-1.3 -2z M271.8 370.65l1.3 2l-1.3 2l-1.3 -2z M271.8 372.67l1.3 2l-1.3 2l-1.3 -2z M271.8 374.69l1.3 2l-1.3 2l-1.3 -2z M271.8 376.71l1.3 2l-1.3 2l-1.3 -2z M271.8 378.74l1.3 2l-1.3 2l-1.3 -2z M271.8 380.76l1.3 2l-1.3 2l-1.3 -2z M271.8 382.78l1.3 2l-1.3 2l-1.3 -2z M271.8 384.8l1.3 2l-1.3 2l-1.3 -2z M271.8 418.3l1.3 2l-1.3 2l-1.3 -2z M271.8 420.3l1.3 2l-1.3 2l-1.3 -2z M271.8 422.3l1.3 2l-1.3 2l-1.3 -2z M271.8 424.3l1.3 2l-1.3 2l-1.3 -2z M271.8 426.3l1.3 2l-1.3 2l-1.3 -2z M271.8 428.3l1.3 2l-1.3 2l-1.3 -2z M271.8 436l1.3 2l-1.3 2l-1.3 -2z M271.8 385.6l1.3 2l-1.3 2l-1.3 -2z M271.8 417.4l1.3 2l-1.3 2l-1.3 -2z" fill="#3c3c3c" stroke="#3c3c3c" stroke-width="0.25" stroke-linejoin="miter"/>
<g stroke="#3c3c3c" stroke-width="0.85" fill="none">
<line x1="324.5" x2="324.5" y1="351.5" y2="383.5"/><line x1="324.5" x2="324.5" y1="406.5" y2="433.5"/>
<line x1="314.01" x2="334.99" y1="351.5" y2="351.5"/><line x1="314.01" x2="334.99" y1="433.5" y2="433.5"/>
<rect x="303.51" y="383.5" width="41.97" height="23" fill="#826246"/>
<line x1="303.51" x2="345.49" y1="397.5" y2="397.5"/>
</g>
<path d="M324.27 310l1.3 2l-1.3 2l-1.3 -2z M324.27 325l1.3 2l-1.3 2l-1.3 -2z M324.27 339l1.3 2l-1.3 2l-1.3 -2z M324.27 344.5l1.3 2l-1.3 2l-1.3 -2z M324.27 470.3l1.3 2l-1.3 2l-1.3 -2z" fill="#3c3c3c" stroke="#3c3c3c" stroke-width="0.25" stroke-linejoin="miter"/>
<g fill="#262626" stroke="#262626" stroke-width="0.05" font-family="Liberation Sans, sans-serif">
<text x="102.1" y="273.1" font-size="9.3" textLength="45.55" lengthAdjust="spacingAndGlyphs">Difference</text><text x="150.54" y="273.1" font-size="9.3" textLength="8.59" lengthAdjust="spacingAndGlyphs">of</text><text x="161.89" y="273.1" font-size="9.3" textLength="46.75" lengthAdjust="spacingAndGlyphs">Equivalent</text><text x="211.67" y="273.1" font-size="9.3" textLength="25.37" lengthAdjust="spacingAndGlyphs">Meals</text><text x="240.04" y="273.1" font-size="9.3" textLength="10.83" lengthAdjust="spacingAndGlyphs">on</text><text x="256.61" y="273.1" font-size="9.3" textLength="11.87" lengthAdjust="spacingAndGlyphs">fat</text><text x="271.57" y="273.1" font-size="9.3" textLength="12.24" lengthAdjust="spacingAndGlyphs">(g)</text>
<text x="22.86" y="286.02" font-size="6.9" textLength="7.49" lengthAdjust="spacingAndGlyphs">40</text>
<text x="22.88" y="316.49" font-size="6.9" textLength="7.47" lengthAdjust="spacingAndGlyphs">30</text>
<text x="22.81" y="346.96" font-size="6.9" textLength="7.54" lengthAdjust="spacingAndGlyphs">20</text>
<text x="22.86" y="377.43" font-size="6.9" textLength="7.49" lengthAdjust="spacingAndGlyphs">10</text>
<text x="26.74" y="407.9" font-size="6.9" textLength="3.6" lengthAdjust="spacingAndGlyphs">0</text>
<text x="17.8" y="438.37" font-size="6.9" textLength="12.57" lengthAdjust="spacingAndGlyphs">−10</text>
<text x="17.8" y="468.84" font-size="6.9" textLength="12.57" lengthAdjust="spacingAndGlyphs">−20</text>
<text x="17.8" y="499.31" font-size="6.9" textLength="12.57" lengthAdjust="spacingAndGlyphs">−30</text>
<text x="47.15" y="510" font-size="6.9" textLength="28.77" lengthAdjust="spacingAndGlyphs">breakfast</text>
<text x="91.36" y="510" font-size="6.9" textLength="25.41" lengthAdjust="spacingAndGlyphs">morning</text><text x="118.93" y="510" font-size="6.9" textLength="17.68" lengthAdjust="spacingAndGlyphs">snack</text>
<text x="158.37" y="510" font-size="6.9" textLength="16.59" lengthAdjust="spacingAndGlyphs">lunch</text>
<text x="194.28" y="510" font-size="6.9" textLength="29.62" lengthAdjust="spacingAndGlyphs">afternoon</text><text x="226.05" y="510" font-size="6.9" textLength="17.68" lengthAdjust="spacingAndGlyphs">snack</text>
<text x="261.63" y="510" font-size="6.9" textLength="19.8" lengthAdjust="spacingAndGlyphs">dinner</text>
<text x="313.42" y="510" font-size="6.9" textLength="21.21" lengthAdjust="spacingAndGlyphs">supper</text>
<text x="173.25" y="519.2" font-size="8.5" textLength="18.32" lengthAdjust="spacingAndGlyphs">Meal</text><text x="194.02" y="519.2" font-size="8.5" textLength="18.23" lengthAdjust="spacingAndGlyphs">Type</text>
<g transform="rotate(-90)"><text x="-399.81" y="13.6" font-size="8.1" textLength="10.53" lengthAdjust="spacingAndGlyphs">fat</text><text x="-386.54" y="13.6" font-size="8.1" textLength="10.86" lengthAdjust="spacingAndGlyphs">(g)</text></g>
</g>
<g stroke="#dadada" stroke-width="1.0">
<line x1="389.4" x2="703.7" y1="283.02" y2="283.02"/>
<line x1="389.4" x2="703.7" y1="312.69" y2="312.69"/>
<line x1="389.4" x2="703.7" y1="342.36" y2="342.36"/>
<line x1="389.4" x2="703.7" y1="372.03" y2="372.03"/>
<line x1="389.4" x2="703.7" y1="401.7" y2="401.7"/>
<line x1="389.4" x2="703.7" y1="431.37" y2="431.37"/>
<line x1="389.4" x2="703.7" y1="461.04" y2="461.04"/>
<line x1="389.4" x2="703.7" y1="490.71" y2="490.71"/>
</g>
<rect x="389.4" y="276.4" width="314.3" height="223.1" fill="none" stroke="#cfcfcf" stroke-width="0.95"/>
<g stroke="#3c3c3c" stroke-width="0.85" fill="none">
<line x1="415.5" x2="415.5" y1="353.5" y2="383.5"/><line x1="415.5" x2="415.5" y1="402.5" y2="424.5"/>
<line x1="405.02" x2="425.98" y1="353.5" y2="353.5"/><line x1="405.02" x2="425.98" y1="424.5" y2="424.5"/>
<rect x="394.55" y="383.5" width="41.91" height="19" fill="#597dbf"/>
<line x1="394.55" x2="436.45" y1="398.5" y2="398.5"/>
</g>
<path d="M415.79 320.6l1.3 2l-1.3 2l-1.3 -2z M415.79 322.57l1.3 2l-1.3 2l-1.3 -2z M415.79 324.53l1.3 2l-1.3 2l-1.3 -2z M415.79 326.5l1.3 2l-1.3 2l-1.3 -2z M415.79 328.47l1.3 2l-1.3 2l-1.3 -2z M415.79 330.43l1.3 2l-1.3 2l-1.3 -2z M415.79 332.4l1.3 2l-1.3 2l-1.3 -2z M415.79 337.1l1.3 2l-1.3 2l-1.3 -2z M415.79 338.98l1.3 2l-1.3 2l-1.3 -2z M415.79 340.87l1.3 2l-1.3 2l-1.3 -2z M415.79 342.75l1.3 2l-1.3 2l-1.3 -2z M415.79 344.63l1.3 2l-1.3 2l-1.3 -2z M415.79 346.52l1.3 2l-1.3 2l-1.3 -2z M415.79 348.4l1.3 2l-1.3 2l-1.3 -2z M415.79 429.1l1.3 2l-1.3 2l-1.3 -2z M415.79 430.9l1.3 2l-1.3 2l-1.3 -2z M415.79 432.8l1.3 2l-1.3 2l-1.3 -2z M415.79 434.7l1.3 2l-1.3 2l-1.3 -2z M415.79 438.5l1.3 2l-1.3 2l-1.3 -2z M415.79 468.4l1.3 2l-1.3 2l-1.3 -2z M415.79 487.9l1.3 2l-1.3 2l-1.3 -2z M415.79 350.6l1.3 2l-1.3 2l-1.3 -2z" fill="#3c3c3c" stroke="#3c3c3c" stroke-width="0.25" stroke-linejoin="miter"/>
<g stroke="#3c3c3c" stroke-width="0.85" fill="none">
<line x1="467.5" x2="467.5" y1="372.5" y2="390.5"/><line x1="467.5" x2="467.5" y1="401.5" y2="416.5"/>
<line x1="457.02" x2="477.98" y1="372.5" y2="372.5"/><line x1="457.02" x2="477.98" y1="416.5" y2="416.5"/>
<rect x="446.55" y="390.5" width="41.91" height="11" fill="#d98b5f"/>
<line x1="446.55" x2="488.45" y1="398.5" y2="398.5"/>
</g>
<path d="M468.18 311.3l1.3 2l-1.3 2l-1.3 -2z M468.18 314l1.3 2l-1.3 2l-1.3 -2z M468.18 341.1l1.3 2l-1.3 2l-1.3 -2z M468.18 343.05l1.3 2l-1.3 2l-1.3 -2z M468.18 345l1.3 2l-1.3 2l-1.3 -2z M468.18 346.95l1.3 2l-1.3 2l-1.3 -2z M468.18 348.9l1.3 2l-1.3 2l-1.3 -2z M468.18 350.85l1.3 2l-1.3 2l-1.3 -2z M468.18 352.8l1.3 2l-1.3 2l-1.3 -2z M468.18 354.75l1.3 2l-1.3 2l-1.3 -2z M468.18 356.7l1.3 2l-1.3 2l-1.3 -2z M468.18 358.65l1.3 2l-1.3 2l-1.3 -2z M468.18 360.6l1.3 2l-1.3 2l-1.3 -2z M468.18 362.55l1.3 2l-1.3 2l-1.3 -2z M468.18 364.5l1.3 2l-1.3 2l-1.3 -2z M468.18 366.45l1.3 2l-1.3 2l-1.3 -2z M468.18 368.4l1.3 2l-1.3 2l-1.3 -2z M468.18 419l1.3 2l-1.3 2l-1.3 -2z M468.18 424.5l1.3 2l-1.3 2l-1.3 -2z M468.18 435.5l1.3 2l-1.3 2l-1.3 -2z M468.18 447.9l1.3 2l-1.3 2l-1.3 -2z M468.18 451l1.3 2l-1.3 2l-1.3 -2z M468.18 369.6l1.3 2l-1.3 2l-1.3 -2z" fill="#3c3c3c" stroke="#3c3c3c" stroke-width="0.25" stroke-linejoin="miter"/>
<g stroke="#3c3c3c" stroke-width="0.85" fill="none">
<line x1="520.5" x2="520.5" y1="365.5" y2="388.5"/><line x1="520.5" x2="520.5" y1="404.5" y2="425.5"/>
<line x1="510.02" x2="530.98" y1="365.5" y2="365.5"/><line x1="510.02" x2="530.98" y1="425.5" y2="425.5"/>
<rect x="499.55" y="388.5" width="41.91" height="16" fill="#75bf71"/>
<line x1="499.55" x2="541.45" y1="399.5" y2="399.5"/>
</g>
<path d="M520.56 308.8l1.3 2l-1.3 2l-1.3 -2z M520.56 319l1.3 2l-1.3 2l-1.3 -2z M520.56 321.6l1.3 2l-1.3 2l-1.3 -2z M520.56 324.4l1.3 2l-1.3 2l-1.3 -2z M520.56 337.3l1.3 2l-1.3 2l-1.3 -2z M520.56 346l1.3 2l-1.3 2l-1.3 -2z M520.56 347.93l1.3 2l-1.3 2l-1.3 -2z M520.56 349.85l1.3 2l-1.3 2l-1.3 -2z M520.56 351.77l1.3 2l-1.3 2l-1.3 -2z M520.56 353.7l1.3 2l-1.3 2l-1.3 -2z M520.56 355.62l1.3 2l-1.3 2l-1.3 -2z M520.56 357.55l1.3 2l-1.3 2l-1.3 -2z M520.56 359.47l1.3 2l-1.3 2l-1.3 -2z M520.56 361.4l1.3 2l-1.3 2l-1.3 -2z M520.56 425.8l1.3 2l-1.3 2l-1.3 -2z M520.56 427.65l1.3 2l-1.3 2l-1.3 -2z M520.56 429.5l1.3 2l-1.3 2l-1.3 -2z M520.56 436.2l1.3 2l-1.3 2l-1.3 -2z M520.56 438.8l1.3 2l-1.3 2l-1.3 -2z M520.56 441.5l1.3 2l-1.3 2l-1.3 -2z M520.56 444l1.3 2l-1.3 2l-1.3 -2z M520.56 446.2l1.3 2l-1.3 2l-1.3 -2z M520.56 449.2l1.3 2l-1.3 2l-1.3 -2z M520.56 455.1l1.3 2l-1.3 2l-1.3 -2z M520.56 362.6l1.3 2l-1.3 2l-1.3 -2z M520.56 424.4l1.3 2l-1.3 2l-1.3 -2z" fill="#3c3c3c" stroke="#3c3c3c" stroke-width="0.25" stroke-linejoin="miter"/>
<g stroke="#3c3c3c" stroke-width="0.85" fill="none">
<line x1="572.5" x2="572.5" y1="380.5" y2="393.5"/><line x1="572.5" x2="572.5" y1="401.5" y2="414.5"/>
<line x1="562.02" x2="582.98" y1="380.5" y2="380.5"/><line x1="562.02" x2="582.98" y1="414.5" y2="414.5"/>
<rect x="551.55" y="393.5" width="41.91" height="8" fill="#c76e6e"/>
<line x1="551.55" x2="593.45" y1="400.5" y2="400.5"/>
</g>
<path d="M572.94 322.8l1.3 2l-1.3 2l-1.3 -2z M572.94 344.5l1.3 2l-1.3 2l-1.3 -2z M572.94 346.51l1.3 2l-1.3 2l-1.3 -2z M572.94 348.51l1.3 2l-1.3 2l-1.3 -2z M572.94 350.52l1.3 2l-1.3 2l-1.3 -2z M572.94 352.52l1.3 2l-1.3 2l-1.3 -2z M572.94 354.53l1.3 2l-1.3 2l-1.3 -2z M572.94 356.54l1.3 2l-1.3 2l-1.3 -2z M572.94 358.54l1.3 2l-1.3 2l-1.3 -2z M572.94 360.55l1.3 2l-1.3 2l-1.3 -2z M572.94 362.56l1.3 2l-1.3 2l-1.3 -2z M572.94 364.56l1.3 2l-1.3 2l-1.3 -2z M572.94 366.57l1.3 2l-1.3 2l-1.3 -2z M572.94 368.57l1.3 2l-1.3 2l-1.3 -2z M572.94 370.58l1.3 2l-1.3 2l-1.3 -2z M572.94 372.59l1.3 2l-1.3 2l-1.3 -2z M572.94 374.59l1.3 2l-1.3 2l-1.3 -2z M572.94 376.6l1.3 2l-1.3 2l-1.3 -2z M572.94 413.9l1.3 2l-1.3 2l-1.3 -2z M572.94 415.91l1.3 2l-1.3 2l-1.3 -2z M572.94 417.93l1.3 2l-1.3 2l-1.3 -2z M572.94 419.94l1.3 2l-1.3 2l-1.3 -2z M572.94 421.96l1.3 2l-1.3 2l-1.3 -2z M572.94 423.97l1.3 2l-1.3 2l-1.3 -2z M572.94 425.99l1.3 2l-1.3 2l-1.3 -2z M572.94 428l1.3 2l-1.3 2l-1.3 -2z M572.94 433.6l1.3 2l-1.3 2l-1.3 -2z M572.94 436.6l1.3 2l-1.3 2l-1.3 -2z M572.94 439.5l1.3 2l-1.3 2l-1.3 -2z M572.94 442.5l1.3 2l-1.3 2l-1.3 -2z M572.94 445.2l1.3 2l-1.3 2l-1.3 -2z M572.94 452.9l1.3 2l-1.3 2l-1.3 -2z M572.94 458.1l1.3 2l-1.3 2l-1.3 -2z M572.94 377.6l1.3 2l-1.3 2l-1.3 -2z M572.94 413.4l1.3 2l-1.3 2l-1.3 -2z" fill="#3c3c3c" stroke="#3c3c3c" stroke-width="0.25" stroke-linejoin="miter"/>
<g stroke="#3c3c3c" stroke-width="0.85" fill="none">
<line x1="625.5" x2="625.5" y1="392.5" y2="398.5"/><line x1="625.5" x2="625.5" y1="403.5" y2="409.5"/>
<line x1="615.02" x2="635.98" y1="392.5" y2="392.5"/><line x1="615.02" x2="635.98" y1="409.5" y2="409.5"/>
<rect x="604.55" y="398.5" width="41.91" height="5" fill="#9475ab"/>
<line x1="604.55" x2="646.45" y1="401.5" y2="401.5"/>
</g>
<path d="M625.33 284.4l1.3 2l-1.3 2l-1.3 -2z M625.33 328l1.3 2l-1.3 2l-1.3 -2z M625.33 343.9l1.3 2l-1.3 2l-1.3 -2z M625.33 352.3l1.3 2l-1.3 2l-1.3 -2z M625.33 358.4l1.3 2l-1.3 2l-1.3 -2z M625.33 360.43l1.3 2l-1.3 2l-1.3 -2z M625.33 362.47l1.3 2l-1.3 2l-1.3 -2z M625.33 364.5l1.3 2l-1.3 2l-1.3 -2z M625.33 366.53l1.3 2l-1.3 2l-1.3 -2z M625.33 368.57l1.3 2l-1.3 2l-1.3 -2z M625.33 370.6l1.3 2l-1.3 2l-1.3 -2z M625.33 372.63l1.3 2l-1.3 2l-1.3 -2z M625.33 374.67l1.3 2l-1.3 2l-1.3 -2z M625.33 376.7l1.3 2l-1.3 2l-1.3 -2z M625.33 378.73l1.3 2l-1.3 2l-1.3 -2z M625.33 380.77l1.3 2l-1.3 2l-1.3 -2z M625.33 382.8l1.3 2l-1.3 2l-1.3 -2z M625.33 384.83l1.3 2l-1.3 2l-1.3 -2z M625.33 386.87l1.3 2l-1.3 2l-1.3 -2z M625.33 388.9l1.3 2l-1.3 2l-1.3 -2z M625.33 409.3l1.3 2l-1.3 2l-1.3 -2z M625.33 411.37l1.3 2l-1.3 2l-1.3 -2z M625.33 413.43l1.3 2l-1.3 2l-1.3 -2z M625.33 415.5l1.3 2l-1.3 2l-1.3 -2z M625.33 417.57l1.3 2l-1.3 2l-1.3 -2z M625.33 419.63l1.3 2l-1.3 2l-1.3 -2z M625.33 421.7l1.3 2l-1.3 2l-1.3 -2z M625.33 423.77l1.3 2l-1.3 2l-1.3 -2z M625.33 425.83l1.3 2l-1.3 2l-1.3 -2z M625.33 427.9l1.3 2l-1.3 2l-1.3 -2z M625.33 433.8l1.3 2l-1.3 2l-1.3 -2z M625.33 435.55l1.3 2l-1.3 2l-1.3 -2z M625.33 437.31l1.3 2l-1.3 2l-1.3 -2z M625.33 439.06l1.3 2l-1.3 2l-1.3 -2z M625.33 440.82l1.3 2l-1.3 2l-1.3 -2z M625.33 442.57l1.3 2l-1.3 2l-1.3 -2z M625.33 444.33l1.3 2l-1.3 2l-1.3 -2z M625.33 446.08l1.3 2l-1.3 2l-1.3 -2z M625.33 447.84l1.3 2l-1.3 2l-1.3 -2z M625.33 449.59l1.3 2l-1.3 2l-1.3 -2z M625.33 451.35l1.3 2l-1.3 2l-1.3 -2z M625.33 453.1l1.3 2l-1.3 2l-1.3 -2z M625.33 389.6l1.3 2l-1.3 2l-1.3 -2z M625.33 408.4l1.3 2l-1.3 2l-1.3 -2z" fill="#3c3c3c" stroke="#3c3c3c" stroke-width="0.25" stroke-linejoin="miter"/>
<g stroke="#3c3c3c" stroke-width="0.85" fill="none">
<line x1="677.5" x2="677.5" y1="354.5" y2="379.5"/><line x1="677.5" x2="677.5" y1="402.5" y2="437.5"/>
<line x1="667.02" x2="687.98" y1="354.5" y2="354.5"/><line x1="667.02" x2="687.98" y1="437.5" y2="437.5"/>
<rect x="656.55" y="379.5" width="41.91" height="23" fill="#826246"/>
<line x1="656.55" x2="698.45" y1="395.5" y2="395.5"/>
</g>
<path d="M677.71 323.7l1.3 2l-1.3 2l-1.3 -2z M677.71 330.3l1.3 2l-1.3 2l-1.3 -2z M677.71 340.2l1.3 2l-1.3 2l-1.3 -2z" fill="#3c3c3c" stroke="#3c3c3c" stroke-width="0.25" stroke-linejoin="miter"/>
<g fill="#262626" stroke="#262626" stroke-width="0.05" font-family="Liberation Sans, sans-serif">
<text x="455" y="273.1" font-size="9.3" textLength="45.52" lengthAdjust="spacingAndGlyphs">Difference</text><text x="503.41" y="273.1" font-size="9.3" textLength="8.58" lengthAdjust="spacingAndGlyphs">of</text><text x="514.75" y="273.1" font-size="9.3" textLength="46.72" lengthAdjust="spacingAndGlyphs">Equivalent</text><text x="564.51" y="273.1" font-size="9.3" textLength="25.35" lengthAdjust="spacingAndGlyphs">Meals</text><text x="592.86" y="273.1" font-size="9.3" textLength="10.82" lengthAdjust="spacingAndGlyphs">on</text><text x="609.61" y="273.1" font-size="9.3" textLength="12.12" lengthAdjust="spacingAndGlyphs">sfa</text><text x="625.51" y="273.1" font-size="9.3" textLength="12.24" lengthAdjust="spacingAndGlyphs">(g)</text>
<text x="376.11" y="285.92" font-size="6.9" textLength="7.54" lengthAdjust="spacingAndGlyphs">20</text>
<text x="376.29" y="315.59" font-size="6.9" textLength="7.39" lengthAdjust="spacingAndGlyphs">15</text>
<text x="376.16" y="345.26" font-size="6.9" textLength="7.49" lengthAdjust="spacingAndGlyphs">10</text>
<text x="380.23" y="374.93" font-size="6.9" textLength="3.42" lengthAdjust="spacingAndGlyphs">5</text>
<text x="380.04" y="404.6" font-size="6.9" textLength="3.6" lengthAdjust="spacingAndGlyphs">0</text>
<text x="375.12" y="434.27" font-size="6.9" textLength="8.58" lengthAdjust="spacingAndGlyphs">−5</text>
<text x="371.1" y="463.94" font-size="6.9" textLength="12.57" lengthAdjust="spacingAndGlyphs">−10</text>
<text x="371.22" y="493.61" font-size="6.9" textLength="12.48" lengthAdjust="spacingAndGlyphs">−15</text>
<text x="401.01" y="510" font-size="6.9" textLength="28.77" lengthAdjust="spacingAndGlyphs">breakfast</text>
<text x="445.13" y="510" font-size="6.9" textLength="25.41" lengthAdjust="spacingAndGlyphs">morning</text><text x="472.71" y="510" font-size="6.9" textLength="17.68" lengthAdjust="spacingAndGlyphs">snack</text>
<text x="512.07" y="510" font-size="6.9" textLength="16.59" lengthAdjust="spacingAndGlyphs">lunch</text>
<text x="547.89" y="510" font-size="6.9" textLength="29.62" lengthAdjust="spacingAndGlyphs">afternoon</text><text x="579.66" y="510" font-size="6.9" textLength="17.68" lengthAdjust="spacingAndGlyphs">snack</text>
<text x="615.15" y="510" font-size="6.9" textLength="19.8" lengthAdjust="spacingAndGlyphs">dinner</text>
<text x="666.86" y="510" font-size="6.9" textLength="21.21" lengthAdjust="spacingAndGlyphs">supper</text>
<text x="526.9" y="519.2" font-size="8.5" textLength="18.32" lengthAdjust="spacingAndGlyphs">Meal</text><text x="547.67" y="519.2" font-size="8.5" textLength="18.23" lengthAdjust="spacingAndGlyphs">Type</text>
<g transform="rotate(-90)"><text x="-400.28" y="367.1" font-size="8.1" textLength="10.75" lengthAdjust="spacingAndGlyphs">sfa</text><text x="-386.18" y="367.1" font-size="8.1" textLength="10.86" lengthAdjust="spacingAndGlyphs">(g)</text></g>
</g>
<g stroke="#dadada" stroke-width="1.0">
<line x1="35.5" x2="350.3" y1="571.55" y2="571.55"/>
<line x1="35.5" x2="350.3" y1="616.5" y2="616.5"/>
<line x1="35.5" x2="350.3" y1="661.45" y2="661.45"/>
<line x1="35.5" x2="350.3" y1="706.4" y2="706.4"/>
<line x1="35.5" x2="350.3" y1="751.35" y2="751.35"/>
</g>
<rect x="35.5" y="538.4" width="314.8" height="223.1" fill="none" stroke="#cfcfcf" stroke-width="0.95"/>
<g stroke="#3c3c3c" stroke-width="0.85" fill="none">
<line x1="61.5" x2="61.5" y1="602.5" y2="615.5"/><line x1="61.5" x2="61.5" y1="624.5" y2="638.5"/>
<line x1="51.01" x2="71.99" y1="602.5" y2="602.5"/><line x1="51.01" x2="71.99" y1="638.5" y2="638.5"/>
<rect x="40.51" y="615.5" width="41.97" height="9" fill="#597dbf"/>
<line x1="40.51" x2="82.49" y1="618.5" y2="618.5"/>
</g>
<path d="M61.93 570.9l1.3 2l-1.3 2l-1.3 -2z M61.93 585.4l1.3 2l-1.3 2l-1.3 -2z M61.93 587.4l1.3 2l-1.3 2l-1.3 -2z M61.93 591.6l1.3 2l-1.3 2l-1.3 -2z M61.93 593.4l1.3 2l-1.3 2l-1.3 -2z M61.93 595.2l1.3 2l-1.3 2l-1.3 -2z M61.93 597l1.3 2l-1.3 2l-1.3 -2z M61.93 638.1l1.3 2l-1.3 2l-1.3 -2z M61.93 640.11l1.3 2l-1.3 2l-1.3 -2z M61.93 642.12l1.3 2l-1.3 2l-1.3 -2z M61.93 644.13l1.3 2l-1.3 2l-1.3 -2z M61.93 646.14l1.3 2l-1.3 2l-1.3 -2z M61.93 648.15l1.3 2l-1.3 2l-1.3 -2z M61.93 650.16l1.3 2l-1.3 2l-1.3 -2z M61.93 652.17l1.3 2l-1.3 2l-1.3 -2z M61.93 654.18l1.3 2l-1.3 2l-1.3 -2z M61.93 656.19l1.3 2l-1.3 2l-1.3 -2z M61.93 658.21l1.3 2l-1.3 2l-1.3 -2z M61.93 660.22l1.3 2l-1.3 2l-1.3 -2z M61.93 662.23l1.3 2l-1.3 2l-1.3 -2z M61.93 664.24l1.3 2l-1.3 2l-1.3 -2z M61.93 666.25l1.3 2l-1.3 2l-1.3 -2z M61.93 668.26l1.3 2l-1.3 2l-1.3 -2z M61.93 670.27l1.3 2l-1.3 2l-1.3 -2z M61.93 672.28l1.3 2l-1.3 2l-1.3 -2z M61.93 674.29l1.3 2l-1.3 2l-1.3 -2z M61.93 676.3l1.3 2l-1.3 2l-1.3 -2z M61.93 637.4l1.3 2l-1.3 2l-1.3 -2z" fill="#3c3c3c" stroke="#3c3c3c" stroke-width="0.25" stroke-linejoin="miter"/>
<g stroke="#3c3c3c" stroke-width="0.85" fill="none">
<line x1="114.5" x2="114.5" y1="604.5" y2="612.5"/><line x1="114.5" x2="114.5" y1="618.5" y2="626.5"/>
<line x1="104.01" x2="124.99" y1="604.5" y2="604.5"/><line x1="104.01" x2="124.99" y1="626.5" y2="626.5"/>
<rect x="93.51" y="612.5" width="41.97" height="6" fill="#d98b5f"/>
<line x1="93.51" x2="135.49" y1="616.5" y2="616.5"/>
</g>
<path d="M114.4 573.2l1.3 2l-1.3 2l-1.3 -2z M114.4 575.15l1.3 2l-1.3 2l-1.3 -2z M114.4 577.09l1.3 2l-1.3 2l-1.3 -2z M114.4 579.04l1.3 2l-1.3 2l-1.3 -2z M114.4 580.98l1.3 2l-1.3 2l-1.3 -2z M114.4 582.93l1.3 2l-1.3 2l-1.3 -2z M114.4 584.88l1.3 2l-1.3 2l-1.3 -2z M114.4 586.82l1.3 2l-1.3 2l-1.3 -2z M114.4 588.77l1.3 2l-1.3 2l-1.3 -2z M114.4 590.72l1.3 2l-1.3 2l-1.3 -2z M114.4 592.66l1.3 2l-1.3 2l-1.3 -2z M114.4 594.61l1.3 2l-1.3 2l-1.3 -2z M114.4 596.55l1.3 2l-1.3 2l-1.3 -2z M114.4 598.5l1.3 2l-1.3 2l-1.3 -2z M114.4 625.9l1.3 2l-1.3 2l-1.3 -2z M114.4 627.86l1.3 2l-1.3 2l-1.3 -2z M114.4 629.82l1.3 2l-1.3 2l-1.3 -2z M114.4 631.79l1.3 2l-1.3 2l-1.3 -2z M114.4 633.75l1.3 2l-1.3 2l-1.3 -2z M114.4 635.71l1.3 2l-1.3 2l-1.3 -2z M114.4 637.67l1.3 2l-1.3 2l-1.3 -2z M114.4 639.63l1.3 2l-1.3 2l-1.3 -2z M114.4 641.6l1.3 2l-1.3 2l-1.3 -2z M114.4 643.56l1.3 2l-1.3 2l-1.3 -2z M114.4 645.52l1.3 2l-1.3 2l-1.3 -2z M114.4 647.48l1.3 2l-1.3 2l-1.3 -2z M114.4 649.44l1.3 2l-1.3 2l-1.3 -2z M114.4 651.4l1.3 2l-1.3 2l-1.3 -2z M114.4 653.37l1.3 2l-1.3 2l-1.3 -2z M114.4 655.33l1.3 2l-1.3 2l-1.3 -2z M114.4 657.29l1.3 2l-1.3 2l-1.3 -2z M114.4 659.25l1.3 2l-1.3 2l-1.3 -2z M114.4 661.21l1.3 2l-1.3 2l-1.3 -2z M114.4 663.18l1.3 2l-1.3 2l-1.3 -2z M114.4 665.14l1.3 2l-1.3 2l-1.3 -2z M114.4 667.1l1.3 2l-1.3 2l-1.3 -2z M114.4 625.4l1.3 2l-1.3 2l-1.3 -2z" fill="#3c3c3c" stroke="#3c3c3c" stroke-width="0.25" stroke-linejoin="miter"/>
<g stroke="#3c3c3c" stroke-width="0.85" fill="none">
<line x1="166.5" x2="166.5" y1="598.5" y2="616.5"/><line x1="166.5" x2="166.5" y1="630.5" y2="652.5"/>
<line x1="156.01" x2="176.99" y1="598.5" y2="598.5"/><line x1="156.01" x2="176.99" y1="652.5" y2="652.5"/>
<rect x="145.51" y="616.5" width="41.97" height="14" fill="#75bf71"/>
<line x1="145.51" x2="187.49" y1="620.5" y2="620.5"/>
</g>
<path d="M166.87 574.9l1.3 2l-1.3 2l-1.3 -2z M166.87 586l1.3 2l-1.3 2l-1.3 -2z M166.87 587.6l1.3 2l-1.3 2l-1.3 -2z M166.87 592.1l1.3 2l-1.3 2l-1.3 -2z M166.87 652.1l1.3 2l-1.3 2l-1.3 -2z M166.87 654.14l1.3 2l-1.3 2l-1.3 -2z M166.87 656.18l1.3 2l-1.3 2l-1.3 -2z M166.87 658.21l1.3 2l-1.3 2l-1.3 -2z M166.87 660.25l1.3 2l-1.3 2l-1.3 -2z M166.87 662.29l1.3 2l-1.3 2l-1.3 -2z M166.87 664.33l1.3 2l-1.3 2l-1.3 -2z M166.87 666.37l1.3 2l-1.3 2l-1.3 -2z M166.87 668.4l1.3 2l-1.3 2l-1.3 -2z M166.87 670.44l1.3 2l-1.3 2l-1.3 -2z M166.87 672.48l1.3 2l-1.3 2l-1.3 -2z M166.87 674.52l1.3 2l-1.3 2l-1.3 -2z M166.87 676.56l1.3 2l-1.3 2l-1.3 -2z M166.87 678.6l1.3 2l-1.3 2l-1.3 -2z M166.87 680.63l1.3 2l-1.3 2l-1.3 -2z M166.87 682.67l1.3 2l-1.3 2l-1.3 -2z M166.87 684.71l1.3 2l-1.3 2l-1.3 -2z M166.87 686.75l1.3 2l-1.3 2l-1.3 -2z M166.87 688.79l1.3 2l-1.3 2l-1.3 -2z M166.87 690.82l1.3 2l-1.3 2l-1.3 -2z M166.87 692.86l1.3 2l-1.3 2l-1.3 -2z M166.87 694.9l1.3 2l-1.3 2l-1.3 -2z M166.87 700.8l1.3 2l-1.3 2l-1.3 -2z M166.87 651.4l1.3 2l-1.3 2l-1.3 -2z" fill="#3c3c3c" stroke="#3c3c3c" stroke-width="0.25" stroke-linejoin="miter"/>
<g stroke="#3c3c3c" stroke-width="0.85" fill="none">
<line x1="219.5" x2="219.5" y1="608.5" y2="614.5"/><line x1="219.5" x2="219.5" y1="618.5" y2="625.5"/>
<line x1="209.01" x2="229.99" y1="608.5" y2="608.5"/><line x1="209.01" x2="229.99" y1="625.5" y2="625.5"/>
<rect x="198.51" y="614.5" width="41.97" height="4" fill="#c76e6e"/>
<line x1="198.51" x2="240.49" y1="616.5" y2="616.5"/>
</g>
<path d="M219.33 546.4l1.3 2l-1.3 2l-1.3 -2z M219.33 566.2l1.3 2l-1.3 2l-1.3 -2z M219.33 575.7l1.3 2l-1.3 2l-1.3 -2z M219.33 577.72l1.3 2l-1.3 2l-1.3 -2z M219.33 579.74l1.3 2l-1.3 2l-1.3 -2z M219.33 581.76l1.3 2l-1.3 2l-1.3 -2z M219.33 583.79l1.3 2l-1.3 2l-1.3 -2z M219.33 585.81l1.3 2l-1.3 2l-1.3 -2z M219.33 587.83l1.3 2l-1.3 2l-1.3 -2z M219.33 589.85l1.3 2l-1.3 2l-1.3 -2z M219.33 591.87l1.3 2l-1.3 2l-1.3 -2z M219.33 593.89l1.3 2l-1.3 2l-1.3 -2z M219.33 595.91l1.3 2l-1.3 2l-1.3 -2z M219.33 597.94l1.3 2l-1.3 2l-1.3 -2z M219.33 599.96l1.3 2l-1.3 2l-1.3 -2z M219.33 601.98l1.3 2l-1.3 2l-1.3 -2z M219.33 604l1.3 2l-1.3 2l-1.3 -2z M219.33 625.3l1.3 2l-1.3 2l-1.3 -2z M219.33 627.36l1.3 2l-1.3 2l-1.3 -2z M219.33 629.41l1.3 2l-1.3 2l-1.3 -2z M219.33 631.47l1.3 2l-1.3 2l-1.3 -2z M219.33 633.53l1.3 2l-1.3 2l-1.3 -2z M219.33 635.58l1.3 2l-1.3 2l-1.3 -2z M219.33 637.64l1.3 2l-1.3 2l-1.3 -2z M219.33 639.69l1.3 2l-1.3 2l-1.3 -2z M219.33 641.75l1.3 2l-1.3 2l-1.3 -2z M219.33 643.81l1.3 2l-1.3 2l-1.3 -2z M219.33 645.86l1.3 2l-1.3 2l-1.3 -2z M219.33 647.92l1.3 2l-1.3 2l-1.3 -2z M219.33 649.97l1.3 2l-1.3 2l-1.3 -2z M219.33 652.03l1.3 2l-1.3 2l-1.3 -2z M219.33 654.09l1.3 2l-1.3 2l-1.3 -2z M219.33 656.14l1.3 2l-1.3 2l-1.3 -2z M219.33 658.2l1.3 2l-1.3 2l-1.3 -2z M219.33 665.9l1.3 2l-1.3 2l-1.3 -2z M219.33 605.6l1.3 2l-1.3 2l-1.3 -2z M219.33 624.4l1.3 2l-1.3 2l-1.3 -2z" fill="#3c3c3c" stroke="#3c3c3c" stroke-width="0.25" stroke-linejoin="miter"/>
<g stroke="#3c3c3c" stroke-width="0.85" fill="none">
<line x1="271.5" x2="271.5" y1="604.5" y2="615.5"/><line x1="271.5" x2="271.5" y1="622.5" y2="632.5"/>
<line x1="261.01" x2="281.99" y1="604.5" y2="604.5"/><line x1="261.01" x2="281.99" y1="632.5" y2="632.5"/>
<rect x="250.51" y="615.5" width="41.97" height="7" fill="#9475ab"/>
<line x1="250.51" x2="292.49" y1="616.5" y2="616.5"/>
</g>
<path d="M271.8 585l1.3 2l-1.3 2l-1.3 -2z M271.8 590.4l1.3 2l-1.3 2l-1.3 -2z M271.8 595.3l1.3 2l-1.3 2l-1.3 -2z M271.8 597.1l1.3 2l-1.3 2l-1.3 -2z M271.8 598.9l1.3 2l-1.3 2l-1.3 -2z M271.8 600.7l1.3 2l-1.3 2l-1.3 -2z M271.8 632.6l1.3 2l-1.3 2l-1.3 -2z M271.8 634.52l1.3 2l-1.3 2l-1.3 -2z M271.8 636.44l1.3 2l-1.3 2l-1.3 -2z M271.8 638.36l1.3 2l-1.3 2l-1.3 -2z M271.8 640.28l1.3 2l-1.3 2l-1.3 -2z M271.8 642.2l1.3 2l-1.3 2l-1.3 -2z M271.8 644.12l1.3 2l-1.3 2l-1.3 -2z M271.8 646.04l1.3 2l-1.3 2l-1.3 -2z M271.8 647.96l1.3 2l-1.3 2l-1.3 -2z M271.8 649.88l1.3 2l-1.3 2l-1.3 -2z M271.8 651.8l1.3 2l-1.3 2l-1.3 -2z M271.8 657.3l1.3 2l-1.3 2l-1.3 -2z M271.8 659.27l1.3 2l-1.3 2l-1.3 -2z M271.8 661.23l1.3 2l-1.3 2l-1.3 -2z M271.8 663.2l1.3 2l-1.3 2l-1.3 -2z M271.8 670.3l1.3 2l-1.3 2l-1.3 -2z M271.8 673.2l1.3 2l-1.3 2l-1.3 -2z M271.8 677.4l1.3 2l-1.3 2l-1.3 -2z M271.8 683.6l1.3 2l-1.3 2l-1.3 -2z M271.8 685.5l1.3 2l-1.3 2l-1.3 -2z M271.8 687.3l1.3 2l-1.3 2l-1.3 -2z M271.8 692.2l1.3 2l-1.3 2l-1.3 -2z M271.8 697l1.3 2l-1.3 2l-1.3 -2z M271.8 698.1l1.3 2l-1.3 2l-1.3 -2z M271.8 749.9l1.3 2l-1.3 2l-1.3 -2z M271.8 601.6l1.3 2l-1.3 2l-1.3 -2z M271.8 631.4l1.3 2l-1.3 2l-1.3 -2z" fill="#3c3c3c" stroke="#3c3c3c" stroke-width="0.25" stroke-linejoin="miter"/>
<g stroke="#3c3c3c" stroke-width="0.85" fill="none">
<line x1="324.5" x2="324.5" y1="592.5" y2="609.5"/><line x1="324.5" x2="324.5" y1="623.5" y2="642.5"/>
<line x1="314.01" x2="334.99" y1="592.5" y2="592.5"/><line x1="314.01" x2="334.99" y1="642.5" y2="642.5"/>
<rect x="303.51" y="609.5" width="41.97" height="14" fill="#826246"/>
<line x1="303.51" x2="345.49" y1="616.5" y2="616.5"/>
</g>
<path d="M324.27 558.3l1.3 2l-1.3 2l-1.3 -2z M324.27 566.7l1.3 2l-1.3 2l-1.3 -2z M324.27 572.1l1.3 2l-1.3 2l-1.3 -2z M324.27 574.3l1.3 2l-1.3 2l-1.3 -2z M324.27 577.3l1.3 2l-1.3 2l-1.3 -2z M324.27 580.4l1.3 2l-1.3 2l-1.3 -2z M324.27 583.5l1.3 2l-1.3 2l-1.3 -2z M324.27 643l1.3 2l-1.3 2l-1.3 -2z M324.27 645.3l1.3 2l-1.3 2l-1.3 -2z M324.27 652.9l1.3 2l-1.3 2l-1.3 -2z M324.27 658.2l1.3 2l-1.3 2l-1.3 -2z M324.27 666.8l1.3 2l-1.3 2l-1.3 -2z" fill="#3c3c3c" stroke="#3c3c3c" stroke-width="0.25" stroke-linejoin="miter"/>
<g fill="#262626" stroke="#262626" stroke-width="0.05" font-family="Liberation Sans, sans-serif">
<text x="92.2" y="535.1" font-size="9.3" textLength="45.55" lengthAdjust="spacingAndGlyphs">Difference</text><text x="140.63" y="535.1" font-size="9.3" textLength="8.59" lengthAdjust="spacingAndGlyphs">of</text><text x="151.98" y="535.1" font-size="9.3" textLength="46.74" lengthAdjust="spacingAndGlyphs">Equivalent</text><text x="201.76" y="535.1" font-size="9.3" textLength="25.36" lengthAdjust="spacingAndGlyphs">Meals</text><text x="230.12" y="535.1" font-size="9.3" textLength="10.82" lengthAdjust="spacingAndGlyphs">on</text><text x="246.8" y="535.1" font-size="9.3" textLength="31.27" lengthAdjust="spacingAndGlyphs">protein</text><text x="281.09" y="535.1" font-size="9.3" textLength="12.24" lengthAdjust="spacingAndGlyphs">(g)</text>
<text x="22.81" y="574.45" font-size="6.9" textLength="7.54" lengthAdjust="spacingAndGlyphs">20</text>
<text x="26.74" y="619.4" font-size="6.9" textLength="3.6" lengthAdjust="spacingAndGlyphs">0</text>
<text x="17.8" y="664.35" font-size="6.9" textLength="12.57" lengthAdjust="spacingAndGlyphs">−20</text>
<text x="17.8" y="709.3" font-size="6.9" textLength="12.57" lengthAdjust="spacingAndGlyphs">−40</text>
<text x="17.8" y="754.25" font-size="6.9" textLength="12.57" lengthAdjust="spacingAndGlyphs">−60</text>
<text x="47.15" y="772" font-size="6.9" textLength="28.77" lengthAdjust="spacingAndGlyphs">breakfast</text>
<text x="91.36" y="772" font-size="6.9" textLength="25.41" lengthAdjust="spacingAndGlyphs">morning</text><text x="118.93" y="772" font-size="6.9" textLength="17.68" lengthAdjust="spacingAndGlyphs">snack</text>
<text x="158.37" y="772" font-size="6.9" textLength="16.59" lengthAdjust="spacingAndGlyphs">lunch</text>
<text x="194.28" y="772" font-size="6.9" textLength="29.62" lengthAdjust="spacingAndGlyphs">afternoon</text><text x="226.05" y="772" font-size="6.9" textLength="17.68" lengthAdjust="spacingAndGlyphs">snack</text>
<text x="261.63" y="772" font-size="6.9" textLength="19.8" lengthAdjust="spacingAndGlyphs">dinner</text>
<text x="313.42" y="772" font-size="6.9" textLength="21.21" lengthAdjust="spacingAndGlyphs">supper</text>
<text x="173.25" y="781.2" font-size="8.5" textLength="18.32" lengthAdjust="spacingAndGlyphs">Meal</text><text x="194.02" y="781.2" font-size="8.5" textLength="18.23" lengthAdjust="spacingAndGlyphs">Type</text>
<g transform="rotate(-90)"><text x="-670.62" y="13.4" font-size="8.1" textLength="27.74" lengthAdjust="spacingAndGlyphs">protein</text><text x="-640.2" y="13.4" font-size="8.1" textLength="10.86" lengthAdjust="spacingAndGlyphs">(g)</text></g>
</g>
<g stroke="#dadada" stroke-width="1.0">
<line x1="389.4" x2="703.7" y1="567.37" y2="567.37"/>
<line x1="389.4" x2="703.7" y1="597.7" y2="597.7"/>
<line x1="389.4" x2="703.7" y1="628.04" y2="628.04"/>
<line x1="389.4" x2="703.7" y1="658.37" y2="658.37"/>
<line x1="389.4" x2="703.7" y1="688.71" y2="688.71"/>
<line x1="389.4" x2="703.7" y1="719.04" y2="719.04"/>
<line x1="389.4" x2="703.7" y1="749.38" y2="749.38"/>
</g>
<rect x="389.4" y="538.4" width="314.3" height="223.1" fill="none" stroke="#cfcfcf" stroke-width="0.95"/>
<g stroke="#3c3c3c" stroke-width="0.85" fill="none">
<line x1="415.5" x2="415.5" y1="586.5" y2="597.5"/><line x1="415.5" x2="415.5" y1="604.5" y2="615.5"/>
<line x1="405.02" x2="425.98" y1="586.5" y2="586.5"/><line x1="405.02" x2="425.98" y1="615.5" y2="615.5"/>
<rect x="394.55" y="597.5" width="41.91" height="7" fill="#597dbf"/>
<line x1="394.55" x2="436.45" y1="599.5" y2="599.5"/>
</g>
<path d="M415.79 546.3l1.3 2l-1.3 2l-1.3 -2z M415.79 580.7l1.3 2l-1.3 2l-1.3 -2z M415.79 582.25l1.3 2l-1.3 2l-1.3 -2z M415.79 583.8l1.3 2l-1.3 2l-1.3 -2z M415.79 615.1l1.3 2l-1.3 2l-1.3 -2z M415.79 617.06l1.3 2l-1.3 2l-1.3 -2z M415.79 619.01l1.3 2l-1.3 2l-1.3 -2z M415.79 620.97l1.3 2l-1.3 2l-1.3 -2z M415.79 622.93l1.3 2l-1.3 2l-1.3 -2z M415.79 624.89l1.3 2l-1.3 2l-1.3 -2z M415.79 626.84l1.3 2l-1.3 2l-1.3 -2z M415.79 628.8l1.3 2l-1.3 2l-1.3 -2z M415.79 633.7l1.3 2l-1.3 2l-1.3 -2z M415.79 645l1.3 2l-1.3 2l-1.3 -2z M415.79 583.6l1.3 2l-1.3 2l-1.3 -2z M415.79 614.4l1.3 2l-1.3 2l-1.3 -2z" fill="#3c3c3c" stroke="#3c3c3c" stroke-width="0.25" stroke-linejoin="miter"/>
<g stroke="#3c3c3c" stroke-width="0.85" fill="none">
<line x1="467.5" x2="467.5" y1="591.5" y2="597.5"/><line x1="467.5" x2="467.5" y1="601.5" y2="607.5"/>
<line x1="457.02" x2="477.98" y1="591.5" y2="591.5"/><line x1="457.02" x2="477.98" y1="607.5" y2="607.5"/>
<rect x="446.55" y="597.5" width="41.91" height="4" fill="#d98b5f"/>
<line x1="446.55" x2="488.45" y1="599.5" y2="599.5"/>
</g>
<path d="M468.18 580.8l1.3 2l-1.3 2l-1.3 -2z M468.18 583.03l1.3 2l-1.3 2l-1.3 -2z M468.18 585.27l1.3 2l-1.3 2l-1.3 -2z M468.18 587.5l1.3 2l-1.3 2l-1.3 -2z M468.18 606.7l1.3 2l-1.3 2l-1.3 -2z M468.18 608.66l1.3 2l-1.3 2l-1.3 -2z M468.18 610.63l1.3 2l-1.3 2l-1.3 -2z M468.18 612.59l1.3 2l-1.3 2l-1.3 -2z M468.18 614.55l1.3 2l-1.3 2l-1.3 -2z M468.18 616.52l1.3 2l-1.3 2l-1.3 -2z M468.18 618.48l1.3 2l-1.3 2l-1.3 -2z M468.18 620.45l1.3 2l-1.3 2l-1.3 -2z M468.18 622.41l1.3 2l-1.3 2l-1.3 -2z M468.18 624.37l1.3 2l-1.3 2l-1.3 -2z M468.18 626.34l1.3 2l-1.3 2l-1.3 -2z M468.18 628.3l1.3 2l-1.3 2l-1.3 -2z M468.18 588.6l1.3 2l-1.3 2l-1.3 -2z M468.18 606.4l1.3 2l-1.3 2l-1.3 -2z" fill="#3c3c3c" stroke="#3c3c3c" stroke-width="0.25" stroke-linejoin="miter"/>
<g stroke="#3c3c3c" stroke-width="0.85" fill="none">
<line x1="520.5" x2="520.5" y1="589.5" y2="596.5"/><line x1="520.5" x2="520.5" y1="601.5" y2="609.5"/>
<line x1="510.02" x2="530.98" y1="589.5" y2="589.5"/><line x1="510.02" x2="530.98" y1="609.5" y2="609.5"/>
<rect x="499.55" y="596.5" width="41.91" height="5" fill="#75bf71"/>
<line x1="499.55" x2="541.45" y1="598.5" y2="598.5"/>
</g>
<path d="M520.56 563.1l1.3 2l-1.3 2l-1.3 -2z M520.56 575.6l1.3 2l-1.3 2l-1.3 -2z M520.56 577.66l1.3 2l-1.3 2l-1.3 -2z M520.56 579.72l1.3 2l-1.3 2l-1.3 -2z M520.56 581.78l1.3 2l-1.3 2l-1.3 -2z M520.56 583.84l1.3 2l-1.3 2l-1.3 -2z M520.56 585.9l1.3 2l-1.3 2l-1.3 -2z M520.56 608.9l1.3 2l-1.3 2l-1.3 -2z M520.56 610.89l1.3 2l-1.3 2l-1.3 -2z M520.56 612.88l1.3 2l-1.3 2l-1.3 -2z M520.56 614.87l1.3 2l-1.3 2l-1.3 -2z M520.56 616.86l1.3 2l-1.3 2l-1.3 -2z M520.56 618.84l1.3 2l-1.3 2l-1.3 -2z M520.56 620.83l1.3 2l-1.3 2l-1.3 -2z M520.56 622.82l1.3 2l-1.3 2l-1.3 -2z M520.56 624.81l1.3 2l-1.3 2l-1.3 -2z M520.56 626.8l1.3 2l-1.3 2l-1.3 -2z M520.56 586.6l1.3 2l-1.3 2l-1.3 -2z M520.56 608.4l1.3 2l-1.3 2l-1.3 -2z" fill="#3c3c3c" stroke="#3c3c3c" stroke-width="0.25" stroke-linejoin="miter"/>
<g stroke="#3c3c3c" stroke-width="0.85" fill="none">
<line x1="572.5" x2="572.5" y1="589.5" y2="596.5"/><line x1="572.5" x2="572.5" y1="601.5" y2="608.5"/>
<line x1="562.02" x2="582.98" y1="589.5" y2="589.5"/><line x1="562.02" x2="582.98" y1="608.5" y2="608.5"/>
<rect x="551.55" y="596.5" width="41.91" height="5" fill="#c76e6e"/>
<line x1="551.55" x2="593.45" y1="597.5" y2="597.5"/>
</g>
<path d="M572.94 564.9l1.3 2l-1.3 2l-1.3 -2z M572.94 569.3l1.3 2l-1.3 2l-1.3 -2z M572.94 570.8l1.3 2l-1.3 2l-1.3 -2z M572.94 572.3l1.3 2l-1.3 2l-1.3 -2z M572.94 577.8l1.3 2l-1.3 2l-1.3 -2z M572.94 579.85l1.3 2l-1.3 2l-1.3 -2z M572.94 581.9l1.3 2l-1.3 2l-1.3 -2z M572.94 583.95l1.3 2l-1.3 2l-1.3 -2z M572.94 586l1.3 2l-1.3 2l-1.3 -2z M572.94 607.6l1.3 2l-1.3 2l-1.3 -2z M572.94 609.68l1.3 2l-1.3 2l-1.3 -2z M572.94 611.77l1.3 2l-1.3 2l-1.3 -2z M572.94 613.85l1.3 2l-1.3 2l-1.3 -2z M572.94 615.93l1.3 2l-1.3 2l-1.3 -2z M572.94 618.02l1.3 2l-1.3 2l-1.3 -2z M572.94 620.1l1.3 2l-1.3 2l-1.3 -2z M572.94 629.4l1.3 2l-1.3 2l-1.3 -2z M572.94 635.3l1.3 2l-1.3 2l-1.3 -2z M572.94 640.5l1.3 2l-1.3 2l-1.3 -2z M572.94 586.6l1.3 2l-1.3 2l-1.3 -2z M572.94 607.4l1.3 2l-1.3 2l-1.3 -2z" fill="#3c3c3c" stroke="#3c3c3c" stroke-width="0.25" stroke-linejoin="miter"/>
<g stroke="#3c3c3c" stroke-width="0.85" fill="none">
<line x1="625.5" x2="625.5" y1="593.5" y2="596.9"/><line x1="625.5" x2="625.5" y1="599.9" y2="602.5"/>
<line x1="615.02" x2="635.98" y1="593.5" y2="593.5"/><line x1="615.02" x2="635.98" y1="602.5" y2="602.5"/>
<rect x="604.55" y="596.9" width="41.91" height="3" fill="#9475ab"/>
<line x1="604.55" x2="646.45" y1="599.9" y2="599.9"/>
</g>
<path d="M625.33 572.6l1.3 2l-1.3 2l-1.3 -2z M625.33 574.52l1.3 2l-1.3 2l-1.3 -2z M625.33 576.44l1.3 2l-1.3 2l-1.3 -2z M625.33 578.37l1.3 2l-1.3 2l-1.3 -2z M625.33 580.29l1.3 2l-1.3 2l-1.3 -2z M625.33 582.21l1.3 2l-1.3 2l-1.3 -2z M625.33 584.13l1.3 2l-1.3 2l-1.3 -2z M625.33 586.06l1.3 2l-1.3 2l-1.3 -2z M625.33 587.98l1.3 2l-1.3 2l-1.3 -2z M625.33 589.9l1.3 2l-1.3 2l-1.3 -2z M625.33 602l1.3 2l-1.3 2l-1.3 -2z M625.33 604.01l1.3 2l-1.3 2l-1.3 -2z M625.33 606.02l1.3 2l-1.3 2l-1.3 -2z M625.33 608.03l1.3 2l-1.3 2l-1.3 -2z M625.33 610.04l1.3 2l-1.3 2l-1.3 -2z M625.33 612.06l1.3 2l-1.3 2l-1.3 -2z M625.33 614.07l1.3 2l-1.3 2l-1.3 -2z M625.33 616.08l1.3 2l-1.3 2l-1.3 -2z M625.33 618.09l1.3 2l-1.3 2l-1.3 -2z M625.33 620.1l1.3 2l-1.3 2l-1.3 -2z M625.33 675.7l1.3 2l-1.3 2l-1.3 -2z M625.33 749.9l1.3 2l-1.3 2l-1.3 -2z M625.33 590.6l1.3 2l-1.3 2l-1.3 -2z M625.33 601.4l1.3 2l-1.3 2l-1.3 -2z" fill="#3c3c3c" stroke="#3c3c3c" stroke-width="0.25" stroke-linejoin="miter"/>
<g stroke="#3c3c3c" stroke-width="0.85" fill="none">
<line x1="677.5" x2="677.5" y1="577.5" y2="590.5"/><line x1="677.5" x2="677.5" y1="601.5" y2="612.5"/>
<line x1="667.02" x2="687.98" y1="577.5" y2="577.5"/><line x1="667.02" x2="687.98" y1="612.5" y2="612.5"/>
<rect x="656.55" y="590.5" width="41.91" height="11" fill="#826246"/>
<line x1="656.55" x2="698.45" y1="597.5" y2="597.5"/>
</g>
<path d="M677.71 566l1.3 2l-1.3 2l-1.3 -2z M677.71 570.3l1.3 2l-1.3 2l-1.3 -2z M677.71 571.9l1.3 2l-1.3 2l-1.3 -2z" fill="#3c3c3c" stroke="#3c3c3c" stroke-width="0.25" stroke-linejoin="miter"/>
<g fill="#262626" stroke="#262626" stroke-width="0.05" font-family="Liberation Sans, sans-serif">
<text x="432" y="535.1" font-size="9.3" textLength="45.43" lengthAdjust="spacingAndGlyphs">Difference</text><text x="480.31" y="535.1" font-size="9.3" textLength="8.57" lengthAdjust="spacingAndGlyphs">of</text><text x="491.63" y="535.1" font-size="9.3" textLength="46.63" lengthAdjust="spacingAndGlyphs">Equivalent</text><text x="541.29" y="535.1" font-size="9.3" textLength="25.3" lengthAdjust="spacingAndGlyphs">Meals</text><text x="569.58" y="535.1" font-size="9.3" textLength="10.8" lengthAdjust="spacingAndGlyphs">on</text><text x="586.17" y="535.1" font-size="9.3" textLength="59.19" lengthAdjust="spacingAndGlyphs">carbohydrate</text><text x="648.3" y="535.1" font-size="9.3" textLength="12.21" lengthAdjust="spacingAndGlyphs">(g)</text>
<text x="376.18" y="570.26" font-size="6.9" textLength="7.47" lengthAdjust="spacingAndGlyphs">50</text>
<text x="380.04" y="600.6" font-size="6.9" textLength="3.6" lengthAdjust="spacingAndGlyphs">0</text>
<text x="371.1" y="630.94" font-size="6.9" textLength="12.57" lengthAdjust="spacingAndGlyphs">−50</text>
<text x="367.2" y="661.27" font-size="6.9" textLength="16.48" lengthAdjust="spacingAndGlyphs">−100</text>
<text x="367.2" y="691.61" font-size="6.9" textLength="16.48" lengthAdjust="spacingAndGlyphs">−150</text>
<text x="367.2" y="721.94" font-size="6.9" textLength="16.48" lengthAdjust="spacingAndGlyphs">−200</text>
<text x="367.2" y="752.27" font-size="6.9" textLength="16.48" lengthAdjust="spacingAndGlyphs">−250</text>
<text x="401.01" y="772" font-size="6.9" textLength="28.77" lengthAdjust="spacingAndGlyphs">breakfast</text>
<text x="445.13" y="772" font-size="6.9" textLength="25.41" lengthAdjust="spacingAndGlyphs">morning</text><text x="472.71" y="772" font-size="6.9" textLength="17.68" lengthAdjust="spacingAndGlyphs">snack</text>
<text x="512.07" y="772" font-size="6.9" textLength="16.59" lengthAdjust="spacingAndGlyphs">lunch</text>
<text x="547.89" y="772" font-size="6.9" textLength="29.62" lengthAdjust="spacingAndGlyphs">afternoon</text><text x="579.66" y="772" font-size="6.9" textLength="17.68" lengthAdjust="spacingAndGlyphs">snack</text>
<text x="615.15" y="772" font-size="6.9" textLength="19.8" lengthAdjust="spacingAndGlyphs">dinner</text>
<text x="666.86" y="772" font-size="6.9" textLength="21.21" lengthAdjust="spacingAndGlyphs">supper</text>
<text x="526.9" y="781.2" font-size="8.5" textLength="18.32" lengthAdjust="spacingAndGlyphs">Meal</text><text x="547.67" y="781.2" font-size="8.5" textLength="18.23" lengthAdjust="spacingAndGlyphs">Type</text>
<g transform="rotate(-90)"><text x="-682.91" y="362.8" font-size="8.1" textLength="52.63" lengthAdjust="spacingAndGlyphs">carbohydrate</text><text x="-627.66" y="362.8" font-size="8.1" textLength="10.86" lengthAdjust="spacingAndGlyphs">(g)</text></g>
</g>
</g>
</svg></body></html>
